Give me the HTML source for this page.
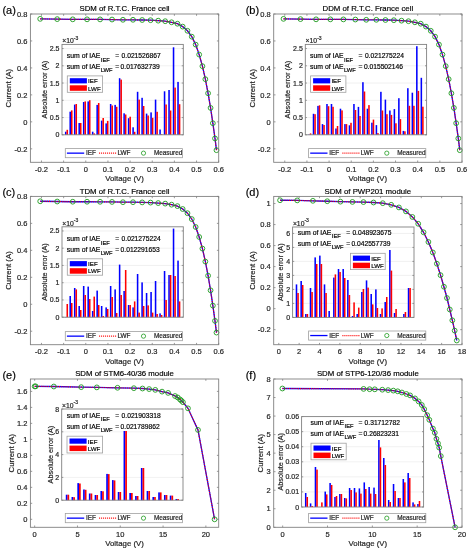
<!DOCTYPE html>
<html><head><meta charset="utf-8"><style>
html,body{margin:0;padding:0;background:#fff;width:470px;height:550px;overflow:hidden}
svg{display:block;font-family:"Liberation Sans", sans-serif;filter:blur(0.25px)}
text{stroke:#262626;stroke-width:0.2px;paint-order:stroke}
</style></head><body>
<svg width="470" height="550" viewBox="0 0 470 550">
<polyline points="40.21,18.85 57.18,19.12 72.76,19.33 87.05,19.33 100.09,19.39 112.03,19.53 122.95,19.80 133.01,19.80 142.16,20.00 150.56,20.20 158.20,20.67 165.20,21.21 171.58,22.29 177.43,23.71 182.66,26.61 187.46,30.78 191.76,36.65 195.66,44.60 199.18,54.58 202.42,66.17 205.36,79.18 208.09,93.27 210.57,107.90 212.85,123.20 215.00,138.44 216.48,150.17" fill="none" stroke="#0000ff" stroke-width="1.3"/>
<polyline points="40.21,18.85 57.18,19.12 72.76,19.33 87.05,19.33 100.09,19.39 112.03,19.53 122.95,19.80 133.01,19.80 142.16,20.00 150.56,20.20 158.20,20.67 165.20,21.21 171.58,22.29 177.43,23.71 182.66,26.61 187.46,30.78 191.76,36.65 195.66,44.60 199.18,54.58 202.42,66.17 205.36,79.18 208.09,93.27 210.57,107.90 212.85,123.20 215.00,138.44 216.48,150.17" fill="none" stroke="#ff0000" stroke-width="1.1" stroke-dasharray="1.1 1.1"/>
<circle cx="40.21" cy="18.85" r="2.4" fill="none" stroke="#1e9a1e" stroke-width="0.9"/>
<circle cx="57.18" cy="19.12" r="2.4" fill="none" stroke="#1e9a1e" stroke-width="0.9"/>
<circle cx="72.76" cy="19.33" r="2.4" fill="none" stroke="#1e9a1e" stroke-width="0.9"/>
<circle cx="87.05" cy="19.33" r="2.4" fill="none" stroke="#1e9a1e" stroke-width="0.9"/>
<circle cx="100.09" cy="19.39" r="2.4" fill="none" stroke="#1e9a1e" stroke-width="0.9"/>
<circle cx="112.03" cy="19.53" r="2.4" fill="none" stroke="#1e9a1e" stroke-width="0.9"/>
<circle cx="122.95" cy="19.80" r="2.4" fill="none" stroke="#1e9a1e" stroke-width="0.9"/>
<circle cx="133.01" cy="19.80" r="2.4" fill="none" stroke="#1e9a1e" stroke-width="0.9"/>
<circle cx="142.16" cy="20.00" r="2.4" fill="none" stroke="#1e9a1e" stroke-width="0.9"/>
<circle cx="150.56" cy="20.20" r="2.4" fill="none" stroke="#1e9a1e" stroke-width="0.9"/>
<circle cx="158.20" cy="20.67" r="2.4" fill="none" stroke="#1e9a1e" stroke-width="0.9"/>
<circle cx="165.20" cy="21.21" r="2.4" fill="none" stroke="#1e9a1e" stroke-width="0.9"/>
<circle cx="171.58" cy="22.29" r="2.4" fill="none" stroke="#1e9a1e" stroke-width="0.9"/>
<circle cx="177.43" cy="23.71" r="2.4" fill="none" stroke="#1e9a1e" stroke-width="0.9"/>
<circle cx="182.66" cy="26.61" r="2.4" fill="none" stroke="#1e9a1e" stroke-width="0.9"/>
<circle cx="187.46" cy="30.78" r="2.4" fill="none" stroke="#1e9a1e" stroke-width="0.9"/>
<circle cx="191.76" cy="36.65" r="2.4" fill="none" stroke="#1e9a1e" stroke-width="0.9"/>
<circle cx="195.66" cy="44.60" r="2.4" fill="none" stroke="#1e9a1e" stroke-width="0.9"/>
<circle cx="199.18" cy="54.58" r="2.4" fill="none" stroke="#1e9a1e" stroke-width="0.9"/>
<circle cx="202.42" cy="66.17" r="2.4" fill="none" stroke="#1e9a1e" stroke-width="0.9"/>
<circle cx="205.36" cy="79.18" r="2.4" fill="none" stroke="#1e9a1e" stroke-width="0.9"/>
<circle cx="208.09" cy="93.27" r="2.4" fill="none" stroke="#1e9a1e" stroke-width="0.9"/>
<circle cx="210.57" cy="107.90" r="2.4" fill="none" stroke="#1e9a1e" stroke-width="0.9"/>
<circle cx="212.85" cy="123.20" r="2.4" fill="none" stroke="#1e9a1e" stroke-width="0.9"/>
<circle cx="215.00" cy="138.44" r="2.4" fill="none" stroke="#1e9a1e" stroke-width="0.9"/>
<circle cx="216.48" cy="150.17" r="2.4" fill="none" stroke="#1e9a1e" stroke-width="0.9"/>
<rect x="30.4" y="14.0" width="188.30" height="148.30" fill="none" stroke="#808080" stroke-width="0.9"/>
<line x1="41.48" y1="162.3" x2="41.48" y2="160.5" stroke="#808080" stroke-width="0.8"/>
<line x1="41.48" y1="14.0" x2="41.48" y2="15.8" stroke="#808080" stroke-width="0.8"/>
<text x="41.48" y="171.90" font-size="7.5" text-anchor="middle" fill="#262626" >-0.2</text>
<line x1="63.63" y1="162.3" x2="63.63" y2="160.5" stroke="#808080" stroke-width="0.8"/>
<line x1="63.63" y1="14.0" x2="63.63" y2="15.8" stroke="#808080" stroke-width="0.8"/>
<text x="63.63" y="171.90" font-size="7.5" text-anchor="middle" fill="#262626" >-0.1</text>
<line x1="85.78" y1="162.3" x2="85.78" y2="160.5" stroke="#808080" stroke-width="0.8"/>
<line x1="85.78" y1="14.0" x2="85.78" y2="15.8" stroke="#808080" stroke-width="0.8"/>
<text x="85.78" y="171.90" font-size="7.5" text-anchor="middle" fill="#262626" >0</text>
<line x1="107.94" y1="162.3" x2="107.94" y2="160.5" stroke="#808080" stroke-width="0.8"/>
<line x1="107.94" y1="14.0" x2="107.94" y2="15.8" stroke="#808080" stroke-width="0.8"/>
<text x="107.94" y="171.90" font-size="7.5" text-anchor="middle" fill="#262626" >0.1</text>
<line x1="130.09" y1="162.3" x2="130.09" y2="160.5" stroke="#808080" stroke-width="0.8"/>
<line x1="130.09" y1="14.0" x2="130.09" y2="15.8" stroke="#808080" stroke-width="0.8"/>
<text x="130.09" y="171.90" font-size="7.5" text-anchor="middle" fill="#262626" >0.2</text>
<line x1="152.24" y1="162.3" x2="152.24" y2="160.5" stroke="#808080" stroke-width="0.8"/>
<line x1="152.24" y1="14.0" x2="152.24" y2="15.8" stroke="#808080" stroke-width="0.8"/>
<text x="152.24" y="171.90" font-size="7.5" text-anchor="middle" fill="#262626" >0.3</text>
<line x1="174.39" y1="162.3" x2="174.39" y2="160.5" stroke="#808080" stroke-width="0.8"/>
<line x1="174.39" y1="14.0" x2="174.39" y2="15.8" stroke="#808080" stroke-width="0.8"/>
<text x="174.39" y="171.90" font-size="7.5" text-anchor="middle" fill="#262626" >0.4</text>
<line x1="196.55" y1="162.3" x2="196.55" y2="160.5" stroke="#808080" stroke-width="0.8"/>
<line x1="196.55" y1="14.0" x2="196.55" y2="15.8" stroke="#808080" stroke-width="0.8"/>
<text x="196.55" y="171.90" font-size="7.5" text-anchor="middle" fill="#262626" >0.5</text>
<line x1="218.70" y1="162.3" x2="218.70" y2="160.5" stroke="#808080" stroke-width="0.8"/>
<line x1="218.70" y1="14.0" x2="218.70" y2="15.8" stroke="#808080" stroke-width="0.8"/>
<text x="218.70" y="171.90" font-size="7.5" text-anchor="middle" fill="#262626" >0.6</text>
<line x1="30.4" y1="148.82" x2="32.199999999999996" y2="148.82" stroke="#808080" stroke-width="0.8"/>
<line x1="218.7" y1="148.82" x2="216.89999999999998" y2="148.82" stroke="#808080" stroke-width="0.8"/>
<text x="27.40" y="151.52" font-size="7.5" text-anchor="end" fill="#262626" >-0.2</text>
<line x1="30.4" y1="121.85" x2="32.199999999999996" y2="121.85" stroke="#808080" stroke-width="0.8"/>
<line x1="218.7" y1="121.85" x2="216.89999999999998" y2="121.85" stroke="#808080" stroke-width="0.8"/>
<text x="27.40" y="124.55" font-size="7.5" text-anchor="end" fill="#262626" >0</text>
<line x1="30.4" y1="94.89" x2="32.199999999999996" y2="94.89" stroke="#808080" stroke-width="0.8"/>
<line x1="218.7" y1="94.89" x2="216.89999999999998" y2="94.89" stroke="#808080" stroke-width="0.8"/>
<text x="27.40" y="97.59" font-size="7.5" text-anchor="end" fill="#262626" >0.2</text>
<line x1="30.4" y1="67.93" x2="32.199999999999996" y2="67.93" stroke="#808080" stroke-width="0.8"/>
<line x1="218.7" y1="67.93" x2="216.89999999999998" y2="67.93" stroke="#808080" stroke-width="0.8"/>
<text x="27.40" y="70.63" font-size="7.5" text-anchor="end" fill="#262626" >0.4</text>
<line x1="30.4" y1="40.96" x2="32.199999999999996" y2="40.96" stroke="#808080" stroke-width="0.8"/>
<line x1="218.7" y1="40.96" x2="216.89999999999998" y2="40.96" stroke="#808080" stroke-width="0.8"/>
<text x="27.40" y="43.66" font-size="7.5" text-anchor="end" fill="#262626" >0.6</text>
<line x1="30.4" y1="14.00" x2="32.199999999999996" y2="14.00" stroke="#808080" stroke-width="0.8"/>
<line x1="218.7" y1="14.00" x2="216.89999999999998" y2="14.00" stroke="#808080" stroke-width="0.8"/>
<text x="27.40" y="16.70" font-size="7.5" text-anchor="end" fill="#262626" >0.8</text>
<text x="124.55" y="11.10" font-size="7.8" text-anchor="middle" fill="#000" >SDM of R.T.C. France cell</text>
<text x="124.55" y="181.20" font-size="7.8" text-anchor="middle" fill="#262626" >Voltage (V)</text>
<text transform="translate(11.399999999999999,88.15) rotate(-90)" font-size="7.8" text-anchor="middle" fill="#262626">Current (A)</text>
<text x="2.40" y="13.80" font-size="11" text-anchor="start" fill="#000" >(a)</text>
<rect x="65.3" y="148.6" width="117.20" height="9.10" fill="#fff" stroke="#a0a0a0" stroke-width="0.8"/>
<line x1="66.90" y1="153.15" x2="84.20" y2="153.15" stroke="#0000ff" stroke-width="1.3"/>
<text x="86.00" y="155.45" font-size="6.4" text-anchor="start" fill="#262626" >IEF</text>
<line x1="99.10" y1="153.15" x2="116.70" y2="153.15" stroke="#ff0000" stroke-width="1.25" stroke-dasharray="1 1"/>
<text x="117.40" y="155.45" font-size="6.4" text-anchor="start" fill="#262626" >LWF</text>
<circle cx="143.50" cy="153.15" r="2.1" fill="none" stroke="#1e9a1e" stroke-width="0.8"/>
<text x="153.90" y="155.45" font-size="6.4" text-anchor="start" fill="#262626" >Measured</text>
<rect x="62" y="44.4" width="121.30" height="90.40" fill="#fff" stroke="none"/>
<line x1="62" y1="117.55" x2="183.3" y2="117.55" stroke="#e8e8e8" stroke-width="0.6"/>
<line x1="62" y1="100.30" x2="183.3" y2="100.30" stroke="#e8e8e8" stroke-width="0.6"/>
<line x1="62" y1="83.04" x2="183.3" y2="83.04" stroke="#e8e8e8" stroke-width="0.6"/>
<line x1="62" y1="65.79" x2="183.3" y2="65.79" stroke="#e8e8e8" stroke-width="0.6"/>
<line x1="62" y1="48.54" x2="183.3" y2="48.54" stroke="#e8e8e8" stroke-width="0.6"/>
<rect x="64.94" y="131.70" width="1.55" height="3.10" fill="#0000ff"/>
<rect x="66.49" y="129.80" width="1.55" height="5.00" fill="#ff0000"/>
<rect x="69.44" y="111.70" width="1.55" height="23.10" fill="#0000ff"/>
<rect x="70.99" y="110.40" width="1.55" height="24.40" fill="#ff0000"/>
<rect x="73.93" y="104.60" width="1.55" height="30.20" fill="#0000ff"/>
<rect x="75.48" y="104.00" width="1.55" height="30.80" fill="#ff0000"/>
<rect x="78.42" y="123.00" width="1.55" height="11.80" fill="#0000ff"/>
<rect x="79.97" y="123.00" width="1.55" height="11.80" fill="#ff0000"/>
<rect x="82.91" y="102.00" width="1.55" height="32.80" fill="#0000ff"/>
<rect x="84.46" y="101.40" width="1.55" height="33.40" fill="#ff0000"/>
<rect x="87.41" y="101.40" width="1.55" height="33.40" fill="#0000ff"/>
<rect x="88.96" y="100.20" width="1.55" height="34.60" fill="#ff0000"/>
<rect x="91.90" y="131.70" width="1.55" height="3.10" fill="#0000ff"/>
<rect x="93.45" y="133.40" width="1.55" height="1.40" fill="#ff0000"/>
<rect x="96.39" y="104.90" width="1.55" height="29.90" fill="#0000ff"/>
<rect x="97.94" y="103.00" width="1.55" height="31.80" fill="#ff0000"/>
<rect x="100.88" y="120.60" width="1.55" height="14.20" fill="#0000ff"/>
<rect x="102.43" y="118.00" width="1.55" height="16.80" fill="#ff0000"/>
<rect x="105.38" y="123.40" width="1.55" height="11.40" fill="#0000ff"/>
<rect x="106.93" y="120.90" width="1.55" height="13.90" fill="#ff0000"/>
<rect x="109.87" y="104.00" width="1.55" height="30.80" fill="#0000ff"/>
<rect x="111.42" y="105.50" width="1.55" height="29.30" fill="#ff0000"/>
<rect x="114.36" y="104.90" width="1.55" height="29.90" fill="#0000ff"/>
<rect x="115.91" y="106.80" width="1.55" height="28.00" fill="#ff0000"/>
<rect x="118.85" y="78.20" width="1.55" height="56.60" fill="#0000ff"/>
<rect x="120.40" y="79.60" width="1.55" height="55.20" fill="#ff0000"/>
<rect x="123.35" y="113.30" width="1.55" height="21.50" fill="#0000ff"/>
<rect x="124.90" y="114.50" width="1.55" height="20.30" fill="#ff0000"/>
<rect x="127.84" y="118.20" width="1.55" height="16.60" fill="#0000ff"/>
<rect x="129.39" y="116.70" width="1.55" height="18.10" fill="#ff0000"/>
<rect x="132.33" y="127.30" width="1.55" height="7.50" fill="#0000ff"/>
<rect x="133.88" y="131.80" width="1.55" height="3.00" fill="#ff0000"/>
<rect x="136.82" y="91.80" width="1.55" height="43.00" fill="#0000ff"/>
<rect x="138.37" y="99.60" width="1.55" height="35.20" fill="#ff0000"/>
<rect x="141.32" y="97.80" width="1.55" height="37.00" fill="#0000ff"/>
<rect x="142.87" y="106.00" width="1.55" height="28.80" fill="#ff0000"/>
<rect x="145.81" y="113.60" width="1.55" height="21.20" fill="#0000ff"/>
<rect x="147.36" y="115.50" width="1.55" height="19.30" fill="#ff0000"/>
<rect x="150.30" y="112.40" width="1.55" height="22.40" fill="#0000ff"/>
<rect x="151.85" y="117.80" width="1.55" height="17.00" fill="#ff0000"/>
<rect x="154.79" y="99.60" width="1.55" height="35.20" fill="#0000ff"/>
<rect x="156.34" y="111.80" width="1.55" height="23.00" fill="#ff0000"/>
<rect x="159.29" y="129.50" width="1.55" height="5.30" fill="#0000ff"/>
<rect x="160.84" y="134.20" width="1.55" height="0.60" fill="#ff0000"/>
<rect x="163.78" y="91.30" width="1.55" height="43.50" fill="#0000ff"/>
<rect x="165.33" y="104.50" width="1.55" height="30.30" fill="#ff0000"/>
<rect x="168.27" y="90.00" width="1.55" height="44.80" fill="#0000ff"/>
<rect x="169.82" y="110.50" width="1.55" height="24.30" fill="#ff0000"/>
<rect x="172.76" y="47.30" width="1.55" height="87.50" fill="#0000ff"/>
<rect x="174.31" y="87.60" width="1.55" height="47.20" fill="#ff0000"/>
<rect x="177.26" y="81.90" width="1.55" height="52.90" fill="#0000ff"/>
<rect x="178.81" y="104.20" width="1.55" height="30.60" fill="#ff0000"/>
<rect x="62" y="44.4" width="121.30" height="90.40" fill="none" stroke="#808080" stroke-width="0.9"/>
<line x1="62" y1="134.80" x2="63.6" y2="134.80" stroke="#808080" stroke-width="0.8"/>
<line x1="183.3" y1="134.80" x2="181.70000000000002" y2="134.80" stroke="#808080" stroke-width="0.8"/>
<text x="59.50" y="137.30" font-size="7" text-anchor="end" fill="#262626" >0</text>
<line x1="62" y1="117.55" x2="63.6" y2="117.55" stroke="#808080" stroke-width="0.8"/>
<line x1="183.3" y1="117.55" x2="181.70000000000002" y2="117.55" stroke="#808080" stroke-width="0.8"/>
<text x="59.50" y="120.05" font-size="7" text-anchor="end" fill="#262626" >0.5</text>
<line x1="62" y1="100.30" x2="63.6" y2="100.30" stroke="#808080" stroke-width="0.8"/>
<line x1="183.3" y1="100.30" x2="181.70000000000002" y2="100.30" stroke="#808080" stroke-width="0.8"/>
<text x="59.50" y="102.80" font-size="7" text-anchor="end" fill="#262626" >1</text>
<line x1="62" y1="83.04" x2="63.6" y2="83.04" stroke="#808080" stroke-width="0.8"/>
<line x1="183.3" y1="83.04" x2="181.70000000000002" y2="83.04" stroke="#808080" stroke-width="0.8"/>
<text x="59.50" y="85.54" font-size="7" text-anchor="end" fill="#262626" >1.5</text>
<line x1="62" y1="65.79" x2="63.6" y2="65.79" stroke="#808080" stroke-width="0.8"/>
<line x1="183.3" y1="65.79" x2="181.70000000000002" y2="65.79" stroke="#808080" stroke-width="0.8"/>
<text x="59.50" y="68.29" font-size="7" text-anchor="end" fill="#262626" >2</text>
<line x1="62" y1="48.54" x2="63.6" y2="48.54" stroke="#808080" stroke-width="0.8"/>
<line x1="183.3" y1="48.54" x2="181.70000000000002" y2="48.54" stroke="#808080" stroke-width="0.8"/>
<text x="59.50" y="51.04" font-size="7" text-anchor="end" fill="#262626" >2.5</text>
<text transform="translate(46.7,89.60) rotate(-90)" font-size="7.3" text-anchor="middle" fill="#262626">Absolute error (A)</text>
<text x="62.3" y="43.199999999999996" font-size="6.8" fill="#262626">×10<tspan dy="-3.4" font-size="5">-3</tspan></text>
<text x="66.8" y="58.3" font-size="6.85" fill="#000">sum of IAE<tspan dx="0.5" dy="3.2" font-size="5.8">IEF</tspan></text>
<text x="115.2" y="58.3" font-size="6.7" fill="#000">=</text>
<text x="121.6" y="58.3" font-size="6.7" fill="#000">0.021526867</text>
<text x="66.8" y="68.9" font-size="6.85" fill="#000">sum of IAE<tspan dx="0.5" dy="3.2" font-size="5.8">LWF</tspan></text>
<text x="115.2" y="68.9" font-size="6.7" fill="#000">=</text>
<text x="120.6" y="68.9" font-size="6.7" fill="#000">0.017632739</text>
<rect x="67.3" y="75.9" width="35.30" height="16.40" fill="#fff" stroke="#a0a0a0" stroke-width="0.8"/>
<rect x="69.80" y="78.20" width="17.1" height="5.2" fill="#0000ff"/>
<rect x="69.80" y="85.30" width="17.1" height="5.5" fill="#ff0000"/>
<text x="88.10" y="83.20" font-size="6.2" text-anchor="start" fill="#000" >IEF</text>
<text x="88.10" y="90.50" font-size="6.2" text-anchor="start" fill="#000" >LWF</text>
<polyline points="283.51,18.85 300.48,19.12 316.06,19.33 330.35,19.33 343.39,19.39 355.33,19.53 366.25,19.80 376.31,19.80 385.46,20.00 393.86,20.20 401.50,20.67 408.50,21.21 414.88,22.29 420.73,23.71 425.96,26.61 430.76,30.78 435.06,36.65 438.96,44.60 442.48,54.58 445.72,66.17 448.66,79.18 451.39,93.27 453.87,107.90 456.15,123.20 458.30,138.44 459.78,150.17" fill="none" stroke="#0000ff" stroke-width="1.3"/>
<polyline points="283.51,18.85 300.48,19.12 316.06,19.33 330.35,19.33 343.39,19.39 355.33,19.53 366.25,19.80 376.31,19.80 385.46,20.00 393.86,20.20 401.50,20.67 408.50,21.21 414.88,22.29 420.73,23.71 425.96,26.61 430.76,30.78 435.06,36.65 438.96,44.60 442.48,54.58 445.72,66.17 448.66,79.18 451.39,93.27 453.87,107.90 456.15,123.20 458.30,138.44 459.78,150.17" fill="none" stroke="#ff0000" stroke-width="1.1" stroke-dasharray="1.1 1.1"/>
<circle cx="283.51" cy="18.85" r="2.4" fill="none" stroke="#1e9a1e" stroke-width="0.9"/>
<circle cx="300.48" cy="19.12" r="2.4" fill="none" stroke="#1e9a1e" stroke-width="0.9"/>
<circle cx="316.06" cy="19.33" r="2.4" fill="none" stroke="#1e9a1e" stroke-width="0.9"/>
<circle cx="330.35" cy="19.33" r="2.4" fill="none" stroke="#1e9a1e" stroke-width="0.9"/>
<circle cx="343.39" cy="19.39" r="2.4" fill="none" stroke="#1e9a1e" stroke-width="0.9"/>
<circle cx="355.33" cy="19.53" r="2.4" fill="none" stroke="#1e9a1e" stroke-width="0.9"/>
<circle cx="366.25" cy="19.80" r="2.4" fill="none" stroke="#1e9a1e" stroke-width="0.9"/>
<circle cx="376.31" cy="19.80" r="2.4" fill="none" stroke="#1e9a1e" stroke-width="0.9"/>
<circle cx="385.46" cy="20.00" r="2.4" fill="none" stroke="#1e9a1e" stroke-width="0.9"/>
<circle cx="393.86" cy="20.20" r="2.4" fill="none" stroke="#1e9a1e" stroke-width="0.9"/>
<circle cx="401.50" cy="20.67" r="2.4" fill="none" stroke="#1e9a1e" stroke-width="0.9"/>
<circle cx="408.50" cy="21.21" r="2.4" fill="none" stroke="#1e9a1e" stroke-width="0.9"/>
<circle cx="414.88" cy="22.29" r="2.4" fill="none" stroke="#1e9a1e" stroke-width="0.9"/>
<circle cx="420.73" cy="23.71" r="2.4" fill="none" stroke="#1e9a1e" stroke-width="0.9"/>
<circle cx="425.96" cy="26.61" r="2.4" fill="none" stroke="#1e9a1e" stroke-width="0.9"/>
<circle cx="430.76" cy="30.78" r="2.4" fill="none" stroke="#1e9a1e" stroke-width="0.9"/>
<circle cx="435.06" cy="36.65" r="2.4" fill="none" stroke="#1e9a1e" stroke-width="0.9"/>
<circle cx="438.96" cy="44.60" r="2.4" fill="none" stroke="#1e9a1e" stroke-width="0.9"/>
<circle cx="442.48" cy="54.58" r="2.4" fill="none" stroke="#1e9a1e" stroke-width="0.9"/>
<circle cx="445.72" cy="66.17" r="2.4" fill="none" stroke="#1e9a1e" stroke-width="0.9"/>
<circle cx="448.66" cy="79.18" r="2.4" fill="none" stroke="#1e9a1e" stroke-width="0.9"/>
<circle cx="451.39" cy="93.27" r="2.4" fill="none" stroke="#1e9a1e" stroke-width="0.9"/>
<circle cx="453.87" cy="107.90" r="2.4" fill="none" stroke="#1e9a1e" stroke-width="0.9"/>
<circle cx="456.15" cy="123.20" r="2.4" fill="none" stroke="#1e9a1e" stroke-width="0.9"/>
<circle cx="458.30" cy="138.44" r="2.4" fill="none" stroke="#1e9a1e" stroke-width="0.9"/>
<circle cx="459.78" cy="150.17" r="2.4" fill="none" stroke="#1e9a1e" stroke-width="0.9"/>
<rect x="273.7" y="14.0" width="188.30" height="148.30" fill="none" stroke="#808080" stroke-width="0.9"/>
<line x1="284.78" y1="162.3" x2="284.78" y2="160.5" stroke="#808080" stroke-width="0.8"/>
<line x1="284.78" y1="14.0" x2="284.78" y2="15.8" stroke="#808080" stroke-width="0.8"/>
<text x="284.78" y="171.90" font-size="7.5" text-anchor="middle" fill="#262626" >-0.2</text>
<line x1="306.93" y1="162.3" x2="306.93" y2="160.5" stroke="#808080" stroke-width="0.8"/>
<line x1="306.93" y1="14.0" x2="306.93" y2="15.8" stroke="#808080" stroke-width="0.8"/>
<text x="306.93" y="171.90" font-size="7.5" text-anchor="middle" fill="#262626" >-0.1</text>
<line x1="329.08" y1="162.3" x2="329.08" y2="160.5" stroke="#808080" stroke-width="0.8"/>
<line x1="329.08" y1="14.0" x2="329.08" y2="15.8" stroke="#808080" stroke-width="0.8"/>
<text x="329.08" y="171.90" font-size="7.5" text-anchor="middle" fill="#262626" >0</text>
<line x1="351.24" y1="162.3" x2="351.24" y2="160.5" stroke="#808080" stroke-width="0.8"/>
<line x1="351.24" y1="14.0" x2="351.24" y2="15.8" stroke="#808080" stroke-width="0.8"/>
<text x="351.24" y="171.90" font-size="7.5" text-anchor="middle" fill="#262626" >0.1</text>
<line x1="373.39" y1="162.3" x2="373.39" y2="160.5" stroke="#808080" stroke-width="0.8"/>
<line x1="373.39" y1="14.0" x2="373.39" y2="15.8" stroke="#808080" stroke-width="0.8"/>
<text x="373.39" y="171.90" font-size="7.5" text-anchor="middle" fill="#262626" >0.2</text>
<line x1="395.54" y1="162.3" x2="395.54" y2="160.5" stroke="#808080" stroke-width="0.8"/>
<line x1="395.54" y1="14.0" x2="395.54" y2="15.8" stroke="#808080" stroke-width="0.8"/>
<text x="395.54" y="171.90" font-size="7.5" text-anchor="middle" fill="#262626" >0.3</text>
<line x1="417.69" y1="162.3" x2="417.69" y2="160.5" stroke="#808080" stroke-width="0.8"/>
<line x1="417.69" y1="14.0" x2="417.69" y2="15.8" stroke="#808080" stroke-width="0.8"/>
<text x="417.69" y="171.90" font-size="7.5" text-anchor="middle" fill="#262626" >0.4</text>
<line x1="439.85" y1="162.3" x2="439.85" y2="160.5" stroke="#808080" stroke-width="0.8"/>
<line x1="439.85" y1="14.0" x2="439.85" y2="15.8" stroke="#808080" stroke-width="0.8"/>
<text x="439.85" y="171.90" font-size="7.5" text-anchor="middle" fill="#262626" >0.5</text>
<line x1="462.00" y1="162.3" x2="462.00" y2="160.5" stroke="#808080" stroke-width="0.8"/>
<line x1="462.00" y1="14.0" x2="462.00" y2="15.8" stroke="#808080" stroke-width="0.8"/>
<text x="462.00" y="171.90" font-size="7.5" text-anchor="middle" fill="#262626" >0.6</text>
<line x1="273.7" y1="148.82" x2="275.5" y2="148.82" stroke="#808080" stroke-width="0.8"/>
<line x1="462.0" y1="148.82" x2="460.2" y2="148.82" stroke="#808080" stroke-width="0.8"/>
<text x="270.70" y="151.52" font-size="7.5" text-anchor="end" fill="#262626" >-0.2</text>
<line x1="273.7" y1="121.85" x2="275.5" y2="121.85" stroke="#808080" stroke-width="0.8"/>
<line x1="462.0" y1="121.85" x2="460.2" y2="121.85" stroke="#808080" stroke-width="0.8"/>
<text x="270.70" y="124.55" font-size="7.5" text-anchor="end" fill="#262626" >0</text>
<line x1="273.7" y1="94.89" x2="275.5" y2="94.89" stroke="#808080" stroke-width="0.8"/>
<line x1="462.0" y1="94.89" x2="460.2" y2="94.89" stroke="#808080" stroke-width="0.8"/>
<text x="270.70" y="97.59" font-size="7.5" text-anchor="end" fill="#262626" >0.2</text>
<line x1="273.7" y1="67.93" x2="275.5" y2="67.93" stroke="#808080" stroke-width="0.8"/>
<line x1="462.0" y1="67.93" x2="460.2" y2="67.93" stroke="#808080" stroke-width="0.8"/>
<text x="270.70" y="70.63" font-size="7.5" text-anchor="end" fill="#262626" >0.4</text>
<line x1="273.7" y1="40.96" x2="275.5" y2="40.96" stroke="#808080" stroke-width="0.8"/>
<line x1="462.0" y1="40.96" x2="460.2" y2="40.96" stroke="#808080" stroke-width="0.8"/>
<text x="270.70" y="43.66" font-size="7.5" text-anchor="end" fill="#262626" >0.6</text>
<line x1="273.7" y1="14.00" x2="275.5" y2="14.00" stroke="#808080" stroke-width="0.8"/>
<line x1="462.0" y1="14.00" x2="460.2" y2="14.00" stroke="#808080" stroke-width="0.8"/>
<text x="270.70" y="16.70" font-size="7.5" text-anchor="end" fill="#262626" >0.8</text>
<text x="367.85" y="11.10" font-size="7.8" text-anchor="middle" fill="#000" >DDM of R.T.C. France cell</text>
<text x="367.85" y="181.20" font-size="7.8" text-anchor="middle" fill="#262626" >Voltage (V)</text>
<text transform="translate(255.0,88.15) rotate(-90)" font-size="7.8" text-anchor="middle" fill="#262626">Current (A)</text>
<text x="245.70" y="13.80" font-size="11" text-anchor="start" fill="#000" >(b)</text>
<rect x="308.6" y="148.6" width="117.20" height="9.10" fill="#fff" stroke="#a0a0a0" stroke-width="0.8"/>
<line x1="310.20" y1="153.15" x2="327.50" y2="153.15" stroke="#0000ff" stroke-width="1.3"/>
<text x="329.30" y="155.45" font-size="6.4" text-anchor="start" fill="#262626" >IEF</text>
<line x1="342.40" y1="153.15" x2="360.00" y2="153.15" stroke="#ff0000" stroke-width="1.25" stroke-dasharray="1 1"/>
<text x="360.70" y="155.45" font-size="6.4" text-anchor="start" fill="#262626" >LWF</text>
<circle cx="386.80" cy="153.15" r="2.1" fill="none" stroke="#1e9a1e" stroke-width="0.8"/>
<text x="397.20" y="155.45" font-size="6.4" text-anchor="start" fill="#262626" >Measured</text>
<rect x="305.3" y="44.4" width="121.30" height="90.40" fill="#fff" stroke="none"/>
<line x1="305.3" y1="117.55" x2="426.6" y2="117.55" stroke="#e8e8e8" stroke-width="0.6"/>
<line x1="305.3" y1="100.30" x2="426.6" y2="100.30" stroke="#e8e8e8" stroke-width="0.6"/>
<line x1="305.3" y1="83.04" x2="426.6" y2="83.04" stroke="#e8e8e8" stroke-width="0.6"/>
<line x1="305.3" y1="65.79" x2="426.6" y2="65.79" stroke="#e8e8e8" stroke-width="0.6"/>
<line x1="305.3" y1="48.54" x2="426.6" y2="48.54" stroke="#e8e8e8" stroke-width="0.6"/>
<rect x="308.24" y="134.50" width="1.55" height="0.30" fill="#0000ff"/>
<rect x="309.79" y="133.40" width="1.55" height="1.40" fill="#ff0000"/>
<rect x="312.74" y="113.80" width="1.55" height="21.00" fill="#0000ff"/>
<rect x="314.29" y="114.20" width="1.55" height="20.60" fill="#ff0000"/>
<rect x="317.23" y="105.90" width="1.55" height="28.90" fill="#0000ff"/>
<rect x="318.78" y="105.30" width="1.55" height="29.50" fill="#ff0000"/>
<rect x="321.72" y="124.10" width="1.55" height="10.70" fill="#0000ff"/>
<rect x="323.27" y="125.00" width="1.55" height="9.80" fill="#ff0000"/>
<rect x="326.21" y="104.00" width="1.55" height="30.80" fill="#0000ff"/>
<rect x="327.76" y="106.20" width="1.55" height="28.60" fill="#ff0000"/>
<rect x="330.71" y="104.00" width="1.55" height="30.80" fill="#0000ff"/>
<rect x="332.26" y="106.80" width="1.55" height="28.00" fill="#ff0000"/>
<rect x="335.20" y="128.50" width="1.55" height="6.30" fill="#0000ff"/>
<rect x="336.75" y="126.00" width="1.55" height="8.80" fill="#ff0000"/>
<rect x="339.69" y="108.70" width="1.55" height="26.10" fill="#0000ff"/>
<rect x="341.24" y="110.40" width="1.55" height="24.40" fill="#ff0000"/>
<rect x="344.18" y="124.10" width="1.55" height="10.70" fill="#0000ff"/>
<rect x="345.73" y="124.10" width="1.55" height="10.70" fill="#ff0000"/>
<rect x="348.68" y="125.30" width="1.55" height="9.50" fill="#0000ff"/>
<rect x="350.23" y="122.80" width="1.55" height="12.00" fill="#ff0000"/>
<rect x="353.17" y="104.00" width="1.55" height="30.80" fill="#0000ff"/>
<rect x="354.72" y="110.00" width="1.55" height="24.80" fill="#ff0000"/>
<rect x="357.66" y="106.90" width="1.55" height="27.90" fill="#0000ff"/>
<rect x="359.21" y="116.00" width="1.55" height="18.80" fill="#ff0000"/>
<rect x="362.15" y="82.20" width="1.55" height="52.60" fill="#0000ff"/>
<rect x="363.70" y="91.50" width="1.55" height="43.30" fill="#ff0000"/>
<rect x="366.65" y="108.70" width="1.55" height="26.10" fill="#0000ff"/>
<rect x="368.20" y="105.10" width="1.55" height="29.70" fill="#ff0000"/>
<rect x="371.14" y="122.70" width="1.55" height="12.10" fill="#0000ff"/>
<rect x="372.69" y="119.60" width="1.55" height="15.20" fill="#ff0000"/>
<rect x="375.63" y="125.10" width="1.55" height="9.70" fill="#0000ff"/>
<rect x="377.18" y="133.10" width="1.55" height="1.70" fill="#ff0000"/>
<rect x="380.12" y="91.80" width="1.55" height="43.00" fill="#0000ff"/>
<rect x="381.67" y="110.50" width="1.55" height="24.30" fill="#ff0000"/>
<rect x="384.62" y="99.60" width="1.55" height="35.20" fill="#0000ff"/>
<rect x="386.17" y="114.20" width="1.55" height="20.60" fill="#ff0000"/>
<rect x="389.11" y="110.50" width="1.55" height="24.30" fill="#0000ff"/>
<rect x="390.66" y="114.90" width="1.55" height="19.90" fill="#ff0000"/>
<rect x="393.60" y="109.10" width="1.55" height="25.70" fill="#0000ff"/>
<rect x="395.15" y="123.30" width="1.55" height="11.50" fill="#ff0000"/>
<rect x="398.09" y="98.20" width="1.55" height="36.60" fill="#0000ff"/>
<rect x="399.64" y="119.10" width="1.55" height="15.70" fill="#ff0000"/>
<rect x="402.59" y="130.90" width="1.55" height="3.90" fill="#0000ff"/>
<rect x="404.14" y="131.30" width="1.55" height="3.50" fill="#ff0000"/>
<rect x="407.08" y="88.20" width="1.55" height="46.60" fill="#0000ff"/>
<rect x="408.63" y="105.80" width="1.55" height="29.00" fill="#ff0000"/>
<rect x="411.57" y="92.70" width="1.55" height="42.10" fill="#0000ff"/>
<rect x="413.12" y="105.80" width="1.55" height="29.00" fill="#ff0000"/>
<rect x="416.06" y="46.20" width="1.55" height="88.60" fill="#0000ff"/>
<rect x="417.61" y="90.90" width="1.55" height="43.90" fill="#ff0000"/>
<rect x="420.56" y="77.80" width="1.55" height="57.00" fill="#0000ff"/>
<rect x="422.11" y="106.70" width="1.55" height="28.10" fill="#ff0000"/>
<rect x="305.3" y="44.4" width="121.30" height="90.40" fill="none" stroke="#808080" stroke-width="0.9"/>
<line x1="305.3" y1="134.80" x2="306.90000000000003" y2="134.80" stroke="#808080" stroke-width="0.8"/>
<line x1="426.6" y1="134.80" x2="425.0" y2="134.80" stroke="#808080" stroke-width="0.8"/>
<text x="302.80" y="137.30" font-size="7" text-anchor="end" fill="#262626" >0</text>
<line x1="305.3" y1="117.55" x2="306.90000000000003" y2="117.55" stroke="#808080" stroke-width="0.8"/>
<line x1="426.6" y1="117.55" x2="425.0" y2="117.55" stroke="#808080" stroke-width="0.8"/>
<text x="302.80" y="120.05" font-size="7" text-anchor="end" fill="#262626" >0.5</text>
<line x1="305.3" y1="100.30" x2="306.90000000000003" y2="100.30" stroke="#808080" stroke-width="0.8"/>
<line x1="426.6" y1="100.30" x2="425.0" y2="100.30" stroke="#808080" stroke-width="0.8"/>
<text x="302.80" y="102.80" font-size="7" text-anchor="end" fill="#262626" >1</text>
<line x1="305.3" y1="83.04" x2="306.90000000000003" y2="83.04" stroke="#808080" stroke-width="0.8"/>
<line x1="426.6" y1="83.04" x2="425.0" y2="83.04" stroke="#808080" stroke-width="0.8"/>
<text x="302.80" y="85.54" font-size="7" text-anchor="end" fill="#262626" >1.5</text>
<line x1="305.3" y1="65.79" x2="306.90000000000003" y2="65.79" stroke="#808080" stroke-width="0.8"/>
<line x1="426.6" y1="65.79" x2="425.0" y2="65.79" stroke="#808080" stroke-width="0.8"/>
<text x="302.80" y="68.29" font-size="7" text-anchor="end" fill="#262626" >2</text>
<line x1="305.3" y1="48.54" x2="306.90000000000003" y2="48.54" stroke="#808080" stroke-width="0.8"/>
<line x1="426.6" y1="48.54" x2="425.0" y2="48.54" stroke="#808080" stroke-width="0.8"/>
<text x="302.80" y="51.04" font-size="7" text-anchor="end" fill="#262626" >2.5</text>
<text transform="translate(290.0,89.60) rotate(-90)" font-size="7.3" text-anchor="middle" fill="#262626">Absolute error (A)</text>
<text x="305.6" y="43.199999999999996" font-size="6.8" fill="#262626">×10<tspan dy="-3.4" font-size="5">-3</tspan></text>
<text x="310.1" y="58.3" font-size="6.85" fill="#000">sum of IAE<tspan dx="0.5" dy="3.2" font-size="5.8">IEF</tspan></text>
<text x="358.5" y="58.3" font-size="6.7" fill="#000">=</text>
<text x="364.9" y="58.3" font-size="6.7" fill="#000">0.021275224</text>
<text x="310.1" y="68.9" font-size="6.85" fill="#000">sum of IAE<tspan dx="0.5" dy="3.2" font-size="5.8">LWF</tspan></text>
<text x="358.5" y="68.9" font-size="6.7" fill="#000">=</text>
<text x="363.9" y="68.9" font-size="6.7" fill="#000">0.015502146</text>
<rect x="310.6" y="75.9" width="35.30" height="16.40" fill="#fff" stroke="#a0a0a0" stroke-width="0.8"/>
<rect x="313.10" y="78.20" width="17.1" height="5.2" fill="#0000ff"/>
<rect x="313.10" y="85.30" width="17.1" height="5.5" fill="#ff0000"/>
<text x="331.40" y="83.20" font-size="6.2" text-anchor="start" fill="#000" >IEF</text>
<text x="331.40" y="90.50" font-size="6.2" text-anchor="start" fill="#000" >LWF</text>
<polyline points="40.21,201.25 57.18,201.52 72.76,201.73 87.05,201.73 100.09,201.79 112.03,201.93 122.95,202.20 133.01,202.20 142.16,202.40 150.56,202.60 158.20,203.07 165.20,203.61 171.58,204.69 177.43,206.11 182.66,209.01 187.46,213.18 191.76,219.05 195.66,227.00 199.18,236.98 202.42,248.57 205.36,261.58 208.09,275.67 210.57,290.30 212.85,305.60 215.00,320.84 216.48,332.57" fill="none" stroke="#0000ff" stroke-width="1.3"/>
<polyline points="40.21,201.25 57.18,201.52 72.76,201.73 87.05,201.73 100.09,201.79 112.03,201.93 122.95,202.20 133.01,202.20 142.16,202.40 150.56,202.60 158.20,203.07 165.20,203.61 171.58,204.69 177.43,206.11 182.66,209.01 187.46,213.18 191.76,219.05 195.66,227.00 199.18,236.98 202.42,248.57 205.36,261.58 208.09,275.67 210.57,290.30 212.85,305.60 215.00,320.84 216.48,332.57" fill="none" stroke="#ff0000" stroke-width="1.1" stroke-dasharray="1.1 1.1"/>
<circle cx="40.21" cy="201.25" r="2.4" fill="none" stroke="#1e9a1e" stroke-width="0.9"/>
<circle cx="57.18" cy="201.52" r="2.4" fill="none" stroke="#1e9a1e" stroke-width="0.9"/>
<circle cx="72.76" cy="201.73" r="2.4" fill="none" stroke="#1e9a1e" stroke-width="0.9"/>
<circle cx="87.05" cy="201.73" r="2.4" fill="none" stroke="#1e9a1e" stroke-width="0.9"/>
<circle cx="100.09" cy="201.79" r="2.4" fill="none" stroke="#1e9a1e" stroke-width="0.9"/>
<circle cx="112.03" cy="201.93" r="2.4" fill="none" stroke="#1e9a1e" stroke-width="0.9"/>
<circle cx="122.95" cy="202.20" r="2.4" fill="none" stroke="#1e9a1e" stroke-width="0.9"/>
<circle cx="133.01" cy="202.20" r="2.4" fill="none" stroke="#1e9a1e" stroke-width="0.9"/>
<circle cx="142.16" cy="202.40" r="2.4" fill="none" stroke="#1e9a1e" stroke-width="0.9"/>
<circle cx="150.56" cy="202.60" r="2.4" fill="none" stroke="#1e9a1e" stroke-width="0.9"/>
<circle cx="158.20" cy="203.07" r="2.4" fill="none" stroke="#1e9a1e" stroke-width="0.9"/>
<circle cx="165.20" cy="203.61" r="2.4" fill="none" stroke="#1e9a1e" stroke-width="0.9"/>
<circle cx="171.58" cy="204.69" r="2.4" fill="none" stroke="#1e9a1e" stroke-width="0.9"/>
<circle cx="177.43" cy="206.11" r="2.4" fill="none" stroke="#1e9a1e" stroke-width="0.9"/>
<circle cx="182.66" cy="209.01" r="2.4" fill="none" stroke="#1e9a1e" stroke-width="0.9"/>
<circle cx="187.46" cy="213.18" r="2.4" fill="none" stroke="#1e9a1e" stroke-width="0.9"/>
<circle cx="191.76" cy="219.05" r="2.4" fill="none" stroke="#1e9a1e" stroke-width="0.9"/>
<circle cx="195.66" cy="227.00" r="2.4" fill="none" stroke="#1e9a1e" stroke-width="0.9"/>
<circle cx="199.18" cy="236.98" r="2.4" fill="none" stroke="#1e9a1e" stroke-width="0.9"/>
<circle cx="202.42" cy="248.57" r="2.4" fill="none" stroke="#1e9a1e" stroke-width="0.9"/>
<circle cx="205.36" cy="261.58" r="2.4" fill="none" stroke="#1e9a1e" stroke-width="0.9"/>
<circle cx="208.09" cy="275.67" r="2.4" fill="none" stroke="#1e9a1e" stroke-width="0.9"/>
<circle cx="210.57" cy="290.30" r="2.4" fill="none" stroke="#1e9a1e" stroke-width="0.9"/>
<circle cx="212.85" cy="305.60" r="2.4" fill="none" stroke="#1e9a1e" stroke-width="0.9"/>
<circle cx="215.00" cy="320.84" r="2.4" fill="none" stroke="#1e9a1e" stroke-width="0.9"/>
<circle cx="216.48" cy="332.57" r="2.4" fill="none" stroke="#1e9a1e" stroke-width="0.9"/>
<rect x="30.4" y="196.4" width="188.30" height="148.30" fill="none" stroke="#808080" stroke-width="0.9"/>
<line x1="41.48" y1="344.70000000000005" x2="41.48" y2="342.90000000000003" stroke="#808080" stroke-width="0.8"/>
<line x1="41.48" y1="196.4" x2="41.48" y2="198.20000000000002" stroke="#808080" stroke-width="0.8"/>
<text x="41.48" y="354.30" font-size="7.5" text-anchor="middle" fill="#262626" >-0.2</text>
<line x1="63.63" y1="344.70000000000005" x2="63.63" y2="342.90000000000003" stroke="#808080" stroke-width="0.8"/>
<line x1="63.63" y1="196.4" x2="63.63" y2="198.20000000000002" stroke="#808080" stroke-width="0.8"/>
<text x="63.63" y="354.30" font-size="7.5" text-anchor="middle" fill="#262626" >-0.1</text>
<line x1="85.78" y1="344.70000000000005" x2="85.78" y2="342.90000000000003" stroke="#808080" stroke-width="0.8"/>
<line x1="85.78" y1="196.4" x2="85.78" y2="198.20000000000002" stroke="#808080" stroke-width="0.8"/>
<text x="85.78" y="354.30" font-size="7.5" text-anchor="middle" fill="#262626" >0</text>
<line x1="107.94" y1="344.70000000000005" x2="107.94" y2="342.90000000000003" stroke="#808080" stroke-width="0.8"/>
<line x1="107.94" y1="196.4" x2="107.94" y2="198.20000000000002" stroke="#808080" stroke-width="0.8"/>
<text x="107.94" y="354.30" font-size="7.5" text-anchor="middle" fill="#262626" >0.1</text>
<line x1="130.09" y1="344.70000000000005" x2="130.09" y2="342.90000000000003" stroke="#808080" stroke-width="0.8"/>
<line x1="130.09" y1="196.4" x2="130.09" y2="198.20000000000002" stroke="#808080" stroke-width="0.8"/>
<text x="130.09" y="354.30" font-size="7.5" text-anchor="middle" fill="#262626" >0.2</text>
<line x1="152.24" y1="344.70000000000005" x2="152.24" y2="342.90000000000003" stroke="#808080" stroke-width="0.8"/>
<line x1="152.24" y1="196.4" x2="152.24" y2="198.20000000000002" stroke="#808080" stroke-width="0.8"/>
<text x="152.24" y="354.30" font-size="7.5" text-anchor="middle" fill="#262626" >0.3</text>
<line x1="174.39" y1="344.70000000000005" x2="174.39" y2="342.90000000000003" stroke="#808080" stroke-width="0.8"/>
<line x1="174.39" y1="196.4" x2="174.39" y2="198.20000000000002" stroke="#808080" stroke-width="0.8"/>
<text x="174.39" y="354.30" font-size="7.5" text-anchor="middle" fill="#262626" >0.4</text>
<line x1="196.55" y1="344.70000000000005" x2="196.55" y2="342.90000000000003" stroke="#808080" stroke-width="0.8"/>
<line x1="196.55" y1="196.4" x2="196.55" y2="198.20000000000002" stroke="#808080" stroke-width="0.8"/>
<text x="196.55" y="354.30" font-size="7.5" text-anchor="middle" fill="#262626" >0.5</text>
<line x1="218.70" y1="344.70000000000005" x2="218.70" y2="342.90000000000003" stroke="#808080" stroke-width="0.8"/>
<line x1="218.70" y1="196.4" x2="218.70" y2="198.20000000000002" stroke="#808080" stroke-width="0.8"/>
<text x="218.70" y="354.30" font-size="7.5" text-anchor="middle" fill="#262626" >0.6</text>
<line x1="30.4" y1="331.22" x2="32.199999999999996" y2="331.22" stroke="#808080" stroke-width="0.8"/>
<line x1="218.7" y1="331.22" x2="216.89999999999998" y2="331.22" stroke="#808080" stroke-width="0.8"/>
<text x="27.40" y="333.92" font-size="7.5" text-anchor="end" fill="#262626" >-0.2</text>
<line x1="30.4" y1="304.25" x2="32.199999999999996" y2="304.25" stroke="#808080" stroke-width="0.8"/>
<line x1="218.7" y1="304.25" x2="216.89999999999998" y2="304.25" stroke="#808080" stroke-width="0.8"/>
<text x="27.40" y="306.95" font-size="7.5" text-anchor="end" fill="#262626" >0</text>
<line x1="30.4" y1="277.29" x2="32.199999999999996" y2="277.29" stroke="#808080" stroke-width="0.8"/>
<line x1="218.7" y1="277.29" x2="216.89999999999998" y2="277.29" stroke="#808080" stroke-width="0.8"/>
<text x="27.40" y="279.99" font-size="7.5" text-anchor="end" fill="#262626" >0.2</text>
<line x1="30.4" y1="250.33" x2="32.199999999999996" y2="250.33" stroke="#808080" stroke-width="0.8"/>
<line x1="218.7" y1="250.33" x2="216.89999999999998" y2="250.33" stroke="#808080" stroke-width="0.8"/>
<text x="27.40" y="253.03" font-size="7.5" text-anchor="end" fill="#262626" >0.4</text>
<line x1="30.4" y1="223.36" x2="32.199999999999996" y2="223.36" stroke="#808080" stroke-width="0.8"/>
<line x1="218.7" y1="223.36" x2="216.89999999999998" y2="223.36" stroke="#808080" stroke-width="0.8"/>
<text x="27.40" y="226.06" font-size="7.5" text-anchor="end" fill="#262626" >0.6</text>
<line x1="30.4" y1="196.40" x2="32.199999999999996" y2="196.40" stroke="#808080" stroke-width="0.8"/>
<line x1="218.7" y1="196.40" x2="216.89999999999998" y2="196.40" stroke="#808080" stroke-width="0.8"/>
<text x="27.40" y="199.10" font-size="7.5" text-anchor="end" fill="#262626" >0.8</text>
<text x="124.55" y="193.50" font-size="7.8" text-anchor="middle" fill="#000" >TDM of R.T.C. France cell</text>
<text x="124.55" y="363.60" font-size="7.8" text-anchor="middle" fill="#262626" >Voltage (V)</text>
<text transform="translate(11.399999999999999,270.55) rotate(-90)" font-size="7.8" text-anchor="middle" fill="#262626">Current (A)</text>
<text x="2.40" y="196.20" font-size="11" text-anchor="start" fill="#000" >(c)</text>
<rect x="65.3" y="331.6" width="117.20" height="9.10" fill="#fff" stroke="#a0a0a0" stroke-width="0.8"/>
<line x1="66.90" y1="336.15" x2="84.20" y2="336.15" stroke="#0000ff" stroke-width="1.3"/>
<text x="86.00" y="338.45" font-size="6.4" text-anchor="start" fill="#262626" >IEF</text>
<line x1="99.10" y1="336.15" x2="116.70" y2="336.15" stroke="#ff0000" stroke-width="1.25" stroke-dasharray="1 1"/>
<text x="117.40" y="338.45" font-size="6.4" text-anchor="start" fill="#262626" >LWF</text>
<circle cx="143.50" cy="336.15" r="2.1" fill="none" stroke="#1e9a1e" stroke-width="0.8"/>
<text x="153.90" y="338.45" font-size="6.4" text-anchor="start" fill="#262626" >Measured</text>
<rect x="62" y="226.8" width="121.30" height="90.40" fill="#fff" stroke="none"/>
<line x1="62" y1="299.95" x2="183.3" y2="299.95" stroke="#e8e8e8" stroke-width="0.6"/>
<line x1="62" y1="282.70" x2="183.3" y2="282.70" stroke="#e8e8e8" stroke-width="0.6"/>
<line x1="62" y1="265.44" x2="183.3" y2="265.44" stroke="#e8e8e8" stroke-width="0.6"/>
<line x1="62" y1="248.19" x2="183.3" y2="248.19" stroke="#e8e8e8" stroke-width="0.6"/>
<line x1="62" y1="230.94" x2="183.3" y2="230.94" stroke="#e8e8e8" stroke-width="0.6"/>
<rect x="64.94" y="317.00" width="1.55" height="0.20" fill="#0000ff"/>
<rect x="66.49" y="304.00" width="1.55" height="13.20" fill="#ff0000"/>
<rect x="69.44" y="296.00" width="1.55" height="21.20" fill="#0000ff"/>
<rect x="70.99" y="303.00" width="1.55" height="14.20" fill="#ff0000"/>
<rect x="73.93" y="288.00" width="1.55" height="29.20" fill="#0000ff"/>
<rect x="75.48" y="289.40" width="1.55" height="27.80" fill="#ff0000"/>
<rect x="78.42" y="306.00" width="1.55" height="11.20" fill="#0000ff"/>
<rect x="79.97" y="310.00" width="1.55" height="7.20" fill="#ff0000"/>
<rect x="82.91" y="286.00" width="1.55" height="31.20" fill="#0000ff"/>
<rect x="84.46" y="295.00" width="1.55" height="22.20" fill="#ff0000"/>
<rect x="87.41" y="286.60" width="1.55" height="30.60" fill="#0000ff"/>
<rect x="88.96" y="299.00" width="1.55" height="18.20" fill="#ff0000"/>
<rect x="91.90" y="311.00" width="1.55" height="6.20" fill="#0000ff"/>
<rect x="93.45" y="296.60" width="1.55" height="20.60" fill="#ff0000"/>
<rect x="96.39" y="290.60" width="1.55" height="26.60" fill="#0000ff"/>
<rect x="97.94" y="305.00" width="1.55" height="12.20" fill="#ff0000"/>
<rect x="100.88" y="306.00" width="1.55" height="11.20" fill="#0000ff"/>
<rect x="102.43" y="316.00" width="1.55" height="1.20" fill="#ff0000"/>
<rect x="105.38" y="307.40" width="1.55" height="9.80" fill="#0000ff"/>
<rect x="106.93" y="309.00" width="1.55" height="8.20" fill="#ff0000"/>
<rect x="109.87" y="286.00" width="1.55" height="31.20" fill="#0000ff"/>
<rect x="111.42" y="297.00" width="1.55" height="20.20" fill="#ff0000"/>
<rect x="114.36" y="289.40" width="1.55" height="27.80" fill="#0000ff"/>
<rect x="115.91" y="313.00" width="1.55" height="4.20" fill="#ff0000"/>
<rect x="118.85" y="264.60" width="1.55" height="52.60" fill="#0000ff"/>
<rect x="120.40" y="295.00" width="1.55" height="22.20" fill="#ff0000"/>
<rect x="123.35" y="291.00" width="1.55" height="26.20" fill="#0000ff"/>
<rect x="124.90" y="270.00" width="1.55" height="47.20" fill="#ff0000"/>
<rect x="127.84" y="305.00" width="1.55" height="12.20" fill="#0000ff"/>
<rect x="129.39" y="305.00" width="1.55" height="12.20" fill="#ff0000"/>
<rect x="132.33" y="307.40" width="1.55" height="9.80" fill="#0000ff"/>
<rect x="133.88" y="301.40" width="1.55" height="15.80" fill="#ff0000"/>
<rect x="136.82" y="274.00" width="1.55" height="43.20" fill="#0000ff"/>
<rect x="138.37" y="312.60" width="1.55" height="4.60" fill="#ff0000"/>
<rect x="141.32" y="282.40" width="1.55" height="34.80" fill="#0000ff"/>
<rect x="142.87" y="306.00" width="1.55" height="11.20" fill="#ff0000"/>
<rect x="145.81" y="293.00" width="1.55" height="24.20" fill="#0000ff"/>
<rect x="147.36" y="305.40" width="1.55" height="11.80" fill="#ff0000"/>
<rect x="150.30" y="292.00" width="1.55" height="25.20" fill="#0000ff"/>
<rect x="151.85" y="312.60" width="1.55" height="4.60" fill="#ff0000"/>
<rect x="154.79" y="281.00" width="1.55" height="36.20" fill="#0000ff"/>
<rect x="156.34" y="314.00" width="1.55" height="3.20" fill="#ff0000"/>
<rect x="159.29" y="313.40" width="1.55" height="3.80" fill="#0000ff"/>
<rect x="160.84" y="315.00" width="1.55" height="2.20" fill="#ff0000"/>
<rect x="163.78" y="271.00" width="1.55" height="46.20" fill="#0000ff"/>
<rect x="165.33" y="300.00" width="1.55" height="17.20" fill="#ff0000"/>
<rect x="168.27" y="275.00" width="1.55" height="42.20" fill="#0000ff"/>
<rect x="169.82" y="275.00" width="1.55" height="42.20" fill="#ff0000"/>
<rect x="172.76" y="228.60" width="1.55" height="88.60" fill="#0000ff"/>
<rect x="174.31" y="276.00" width="1.55" height="41.20" fill="#ff0000"/>
<rect x="177.26" y="260.60" width="1.55" height="56.60" fill="#0000ff"/>
<rect x="178.81" y="301.40" width="1.55" height="15.80" fill="#ff0000"/>
<rect x="62" y="226.8" width="121.30" height="90.40" fill="none" stroke="#808080" stroke-width="0.9"/>
<line x1="62" y1="317.20" x2="63.6" y2="317.20" stroke="#808080" stroke-width="0.8"/>
<line x1="183.3" y1="317.20" x2="181.70000000000002" y2="317.20" stroke="#808080" stroke-width="0.8"/>
<text x="59.50" y="319.70" font-size="7" text-anchor="end" fill="#262626" >0</text>
<line x1="62" y1="299.95" x2="63.6" y2="299.95" stroke="#808080" stroke-width="0.8"/>
<line x1="183.3" y1="299.95" x2="181.70000000000002" y2="299.95" stroke="#808080" stroke-width="0.8"/>
<text x="59.50" y="302.45" font-size="7" text-anchor="end" fill="#262626" >0.5</text>
<line x1="62" y1="282.70" x2="63.6" y2="282.70" stroke="#808080" stroke-width="0.8"/>
<line x1="183.3" y1="282.70" x2="181.70000000000002" y2="282.70" stroke="#808080" stroke-width="0.8"/>
<text x="59.50" y="285.20" font-size="7" text-anchor="end" fill="#262626" >1</text>
<line x1="62" y1="265.44" x2="63.6" y2="265.44" stroke="#808080" stroke-width="0.8"/>
<line x1="183.3" y1="265.44" x2="181.70000000000002" y2="265.44" stroke="#808080" stroke-width="0.8"/>
<text x="59.50" y="267.94" font-size="7" text-anchor="end" fill="#262626" >1.5</text>
<line x1="62" y1="248.19" x2="63.6" y2="248.19" stroke="#808080" stroke-width="0.8"/>
<line x1="183.3" y1="248.19" x2="181.70000000000002" y2="248.19" stroke="#808080" stroke-width="0.8"/>
<text x="59.50" y="250.69" font-size="7" text-anchor="end" fill="#262626" >2</text>
<line x1="62" y1="230.94" x2="63.6" y2="230.94" stroke="#808080" stroke-width="0.8"/>
<line x1="183.3" y1="230.94" x2="181.70000000000002" y2="230.94" stroke="#808080" stroke-width="0.8"/>
<text x="59.50" y="233.44" font-size="7" text-anchor="end" fill="#262626" >2.5</text>
<text transform="translate(46.7,272.00) rotate(-90)" font-size="7.3" text-anchor="middle" fill="#262626">Absolute error (A)</text>
<text x="62.3" y="225.60000000000002" font-size="6.8" fill="#262626">×10<tspan dy="-3.4" font-size="5">-3</tspan></text>
<text x="66.8" y="241.29999999999998" font-size="6.85" fill="#000">sum of IAE<tspan dx="0.5" dy="3.2" font-size="5.8">IEF</tspan></text>
<text x="115.2" y="241.29999999999998" font-size="6.7" fill="#000">=</text>
<text x="121.6" y="241.29999999999998" font-size="6.7" fill="#000">0.021275224</text>
<text x="66.8" y="251.9" font-size="6.85" fill="#000">sum of IAE<tspan dx="0.5" dy="3.2" font-size="5.8">LWF</tspan></text>
<text x="115.2" y="251.9" font-size="6.7" fill="#000">=</text>
<text x="120.6" y="251.9" font-size="6.7" fill="#000">0.012291653</text>
<rect x="67.3" y="258.8" width="35.30" height="16.40" fill="#fff" stroke="#a0a0a0" stroke-width="0.8"/>
<rect x="69.80" y="261.10" width="17.1" height="5.2" fill="#0000ff"/>
<rect x="69.80" y="268.20" width="17.1" height="5.5" fill="#ff0000"/>
<text x="88.10" y="266.10" font-size="6.2" text-anchor="start" fill="#000" >IEF</text>
<text x="88.10" y="273.40" font-size="6.2" text-anchor="start" fill="#000" >LWF</text>
<polyline points="280.06,200.24 297.20,200.39 312.90,200.81 327.26,201.23 340.41,201.66 352.44,201.92 363.46,202.08 373.55,202.50 382.77,203.18 391.21,204.81 398.91,207.44 405.95,211.38 412.36,216.95 418.22,223.78 423.55,232.29 428.41,241.96 432.83,252.47 436.87,263.72 440.55,275.17 443.91,286.74 446.98,298.03 449.77,309.49 452.33,320.32 454.66,330.62 456.79,340.50" fill="none" stroke="#0000ff" stroke-width="1.3"/>
<polyline points="280.06,200.24 297.20,200.39 312.90,200.81 327.26,201.23 340.41,201.66 352.44,201.92 363.46,202.08 373.55,202.50 382.77,203.18 391.21,204.81 398.91,207.44 405.95,211.38 412.36,216.95 418.22,223.78 423.55,232.29 428.41,241.96 432.83,252.47 436.87,263.72 440.55,275.17 443.91,286.74 446.98,298.03 449.77,309.49 452.33,320.32 454.66,330.62 456.79,340.50" fill="none" stroke="#ff0000" stroke-width="1.1" stroke-dasharray="1.1 1.1"/>
<circle cx="280.06" cy="200.24" r="2.4" fill="none" stroke="#1e9a1e" stroke-width="0.9"/>
<circle cx="297.20" cy="200.39" r="2.4" fill="none" stroke="#1e9a1e" stroke-width="0.9"/>
<circle cx="312.90" cy="200.81" r="2.4" fill="none" stroke="#1e9a1e" stroke-width="0.9"/>
<circle cx="327.26" cy="201.23" r="2.4" fill="none" stroke="#1e9a1e" stroke-width="0.9"/>
<circle cx="340.41" cy="201.66" r="2.4" fill="none" stroke="#1e9a1e" stroke-width="0.9"/>
<circle cx="352.44" cy="201.92" r="2.4" fill="none" stroke="#1e9a1e" stroke-width="0.9"/>
<circle cx="363.46" cy="202.08" r="2.4" fill="none" stroke="#1e9a1e" stroke-width="0.9"/>
<circle cx="373.55" cy="202.50" r="2.4" fill="none" stroke="#1e9a1e" stroke-width="0.9"/>
<circle cx="382.77" cy="203.18" r="2.4" fill="none" stroke="#1e9a1e" stroke-width="0.9"/>
<circle cx="391.21" cy="204.81" r="2.4" fill="none" stroke="#1e9a1e" stroke-width="0.9"/>
<circle cx="398.91" cy="207.44" r="2.4" fill="none" stroke="#1e9a1e" stroke-width="0.9"/>
<circle cx="405.95" cy="211.38" r="2.4" fill="none" stroke="#1e9a1e" stroke-width="0.9"/>
<circle cx="412.36" cy="216.95" r="2.4" fill="none" stroke="#1e9a1e" stroke-width="0.9"/>
<circle cx="418.22" cy="223.78" r="2.4" fill="none" stroke="#1e9a1e" stroke-width="0.9"/>
<circle cx="423.55" cy="232.29" r="2.4" fill="none" stroke="#1e9a1e" stroke-width="0.9"/>
<circle cx="428.41" cy="241.96" r="2.4" fill="none" stroke="#1e9a1e" stroke-width="0.9"/>
<circle cx="432.83" cy="252.47" r="2.4" fill="none" stroke="#1e9a1e" stroke-width="0.9"/>
<circle cx="436.87" cy="263.72" r="2.4" fill="none" stroke="#1e9a1e" stroke-width="0.9"/>
<circle cx="440.55" cy="275.17" r="2.4" fill="none" stroke="#1e9a1e" stroke-width="0.9"/>
<circle cx="443.91" cy="286.74" r="2.4" fill="none" stroke="#1e9a1e" stroke-width="0.9"/>
<circle cx="446.98" cy="298.03" r="2.4" fill="none" stroke="#1e9a1e" stroke-width="0.9"/>
<circle cx="449.77" cy="309.49" r="2.4" fill="none" stroke="#1e9a1e" stroke-width="0.9"/>
<circle cx="452.33" cy="320.32" r="2.4" fill="none" stroke="#1e9a1e" stroke-width="0.9"/>
<circle cx="454.66" cy="330.62" r="2.4" fill="none" stroke="#1e9a1e" stroke-width="0.9"/>
<circle cx="456.79" cy="340.50" r="2.4" fill="none" stroke="#1e9a1e" stroke-width="0.9"/>
<rect x="273.7" y="196.4" width="188.30" height="148.30" fill="none" stroke="#808080" stroke-width="0.9"/>
<line x1="278.79" y1="344.70000000000005" x2="278.79" y2="342.90000000000003" stroke="#808080" stroke-width="0.8"/>
<line x1="278.79" y1="196.4" x2="278.79" y2="198.20000000000002" stroke="#808080" stroke-width="0.8"/>
<text x="278.79" y="354.30" font-size="7.5" text-anchor="middle" fill="#262626" >0</text>
<line x1="299.15" y1="344.70000000000005" x2="299.15" y2="342.90000000000003" stroke="#808080" stroke-width="0.8"/>
<line x1="299.15" y1="196.4" x2="299.15" y2="198.20000000000002" stroke="#808080" stroke-width="0.8"/>
<text x="299.15" y="354.30" font-size="7.5" text-anchor="middle" fill="#262626" >2</text>
<line x1="319.50" y1="344.70000000000005" x2="319.50" y2="342.90000000000003" stroke="#808080" stroke-width="0.8"/>
<line x1="319.50" y1="196.4" x2="319.50" y2="198.20000000000002" stroke="#808080" stroke-width="0.8"/>
<text x="319.50" y="354.30" font-size="7.5" text-anchor="middle" fill="#262626" >4</text>
<line x1="339.86" y1="344.70000000000005" x2="339.86" y2="342.90000000000003" stroke="#808080" stroke-width="0.8"/>
<line x1="339.86" y1="196.4" x2="339.86" y2="198.20000000000002" stroke="#808080" stroke-width="0.8"/>
<text x="339.86" y="354.30" font-size="7.5" text-anchor="middle" fill="#262626" >6</text>
<line x1="360.22" y1="344.70000000000005" x2="360.22" y2="342.90000000000003" stroke="#808080" stroke-width="0.8"/>
<line x1="360.22" y1="196.4" x2="360.22" y2="198.20000000000002" stroke="#808080" stroke-width="0.8"/>
<text x="360.22" y="354.30" font-size="7.5" text-anchor="middle" fill="#262626" >8</text>
<line x1="380.57" y1="344.70000000000005" x2="380.57" y2="342.90000000000003" stroke="#808080" stroke-width="0.8"/>
<line x1="380.57" y1="196.4" x2="380.57" y2="198.20000000000002" stroke="#808080" stroke-width="0.8"/>
<text x="380.57" y="354.30" font-size="7.5" text-anchor="middle" fill="#262626" >10</text>
<line x1="400.93" y1="344.70000000000005" x2="400.93" y2="342.90000000000003" stroke="#808080" stroke-width="0.8"/>
<line x1="400.93" y1="196.4" x2="400.93" y2="198.20000000000002" stroke="#808080" stroke-width="0.8"/>
<text x="400.93" y="354.30" font-size="7.5" text-anchor="middle" fill="#262626" >12</text>
<line x1="421.29" y1="344.70000000000005" x2="421.29" y2="342.90000000000003" stroke="#808080" stroke-width="0.8"/>
<line x1="421.29" y1="196.4" x2="421.29" y2="198.20000000000002" stroke="#808080" stroke-width="0.8"/>
<text x="421.29" y="354.30" font-size="7.5" text-anchor="middle" fill="#262626" >14</text>
<line x1="441.64" y1="344.70000000000005" x2="441.64" y2="342.90000000000003" stroke="#808080" stroke-width="0.8"/>
<line x1="441.64" y1="196.4" x2="441.64" y2="198.20000000000002" stroke="#808080" stroke-width="0.8"/>
<text x="441.64" y="354.30" font-size="7.5" text-anchor="middle" fill="#262626" >16</text>
<line x1="462.00" y1="344.70000000000005" x2="462.00" y2="342.90000000000003" stroke="#808080" stroke-width="0.8"/>
<line x1="462.00" y1="196.4" x2="462.00" y2="198.20000000000002" stroke="#808080" stroke-width="0.8"/>
<text x="462.00" y="354.30" font-size="7.5" text-anchor="middle" fill="#262626" >18</text>
<line x1="273.7" y1="329.67" x2="275.5" y2="329.67" stroke="#808080" stroke-width="0.8"/>
<line x1="462.0" y1="329.67" x2="460.2" y2="329.67" stroke="#808080" stroke-width="0.8"/>
<text x="270.70" y="332.37" font-size="7.5" text-anchor="end" fill="#262626" >-0.2</text>
<line x1="273.7" y1="308.65" x2="275.5" y2="308.65" stroke="#808080" stroke-width="0.8"/>
<line x1="462.0" y1="308.65" x2="460.2" y2="308.65" stroke="#808080" stroke-width="0.8"/>
<text x="270.70" y="311.35" font-size="7.5" text-anchor="end" fill="#262626" >0</text>
<line x1="273.7" y1="287.63" x2="275.5" y2="287.63" stroke="#808080" stroke-width="0.8"/>
<line x1="462.0" y1="287.63" x2="460.2" y2="287.63" stroke="#808080" stroke-width="0.8"/>
<text x="270.70" y="290.33" font-size="7.5" text-anchor="end" fill="#262626" >0.2</text>
<line x1="273.7" y1="266.61" x2="275.5" y2="266.61" stroke="#808080" stroke-width="0.8"/>
<line x1="462.0" y1="266.61" x2="460.2" y2="266.61" stroke="#808080" stroke-width="0.8"/>
<text x="270.70" y="269.31" font-size="7.5" text-anchor="end" fill="#262626" >0.4</text>
<line x1="273.7" y1="245.59" x2="275.5" y2="245.59" stroke="#808080" stroke-width="0.8"/>
<line x1="462.0" y1="245.59" x2="460.2" y2="245.59" stroke="#808080" stroke-width="0.8"/>
<text x="270.70" y="248.29" font-size="7.5" text-anchor="end" fill="#262626" >0.6</text>
<line x1="273.7" y1="224.57" x2="275.5" y2="224.57" stroke="#808080" stroke-width="0.8"/>
<line x1="462.0" y1="224.57" x2="460.2" y2="224.57" stroke="#808080" stroke-width="0.8"/>
<text x="270.70" y="227.27" font-size="7.5" text-anchor="end" fill="#262626" >0.8</text>
<line x1="273.7" y1="203.55" x2="275.5" y2="203.55" stroke="#808080" stroke-width="0.8"/>
<line x1="462.0" y1="203.55" x2="460.2" y2="203.55" stroke="#808080" stroke-width="0.8"/>
<text x="270.70" y="206.25" font-size="7.5" text-anchor="end" fill="#262626" >1</text>
<text x="367.85" y="193.50" font-size="7.8" text-anchor="middle" fill="#000" >SDM of PWP201 module</text>
<text x="367.85" y="363.60" font-size="7.8" text-anchor="middle" fill="#262626" >Voltage (V)</text>
<text transform="translate(255.0,270.55) rotate(-90)" font-size="7.8" text-anchor="middle" fill="#262626">Current (A)</text>
<text x="245.70" y="196.20" font-size="11" text-anchor="start" fill="#000" >(d)</text>
<rect x="308.6" y="331.0" width="117.20" height="9.10" fill="#fff" stroke="#a0a0a0" stroke-width="0.8"/>
<line x1="310.20" y1="335.55" x2="327.50" y2="335.55" stroke="#0000ff" stroke-width="1.3"/>
<text x="329.30" y="337.85" font-size="6.4" text-anchor="start" fill="#262626" >IEF</text>
<line x1="342.40" y1="335.55" x2="360.00" y2="335.55" stroke="#ff0000" stroke-width="1.25" stroke-dasharray="1 1"/>
<text x="360.70" y="337.85" font-size="6.4" text-anchor="start" fill="#262626" >LWF</text>
<circle cx="386.80" cy="335.55" r="2.1" fill="none" stroke="#1e9a1e" stroke-width="0.8"/>
<text x="397.20" y="337.85" font-size="6.4" text-anchor="start" fill="#262626" >Measured</text>
<rect x="292.6" y="227" width="121.40" height="90.40" fill="#fff" stroke="none"/>
<line x1="292.6" y1="303.41" x2="414" y2="303.41" stroke="#e8e8e8" stroke-width="0.6"/>
<line x1="292.6" y1="289.41" x2="414" y2="289.41" stroke="#e8e8e8" stroke-width="0.6"/>
<line x1="292.6" y1="275.42" x2="414" y2="275.42" stroke="#e8e8e8" stroke-width="0.6"/>
<line x1="292.6" y1="261.42" x2="414" y2="261.42" stroke="#e8e8e8" stroke-width="0.6"/>
<line x1="292.6" y1="247.43" x2="414" y2="247.43" stroke="#e8e8e8" stroke-width="0.6"/>
<line x1="292.6" y1="233.44" x2="414" y2="233.44" stroke="#e8e8e8" stroke-width="0.6"/>
<rect x="295.72" y="284.40" width="1.55" height="33.00" fill="#0000ff"/>
<rect x="297.27" y="293.00" width="1.55" height="24.40" fill="#ff0000"/>
<rect x="300.39" y="281.00" width="1.55" height="36.40" fill="#0000ff"/>
<rect x="301.94" y="285.00" width="1.55" height="32.40" fill="#ff0000"/>
<rect x="305.06" y="314.00" width="1.55" height="3.40" fill="#0000ff"/>
<rect x="306.61" y="314.00" width="1.55" height="3.40" fill="#ff0000"/>
<rect x="309.73" y="288.00" width="1.55" height="29.40" fill="#0000ff"/>
<rect x="311.28" y="292.00" width="1.55" height="25.40" fill="#ff0000"/>
<rect x="314.40" y="257.40" width="1.55" height="60.00" fill="#0000ff"/>
<rect x="315.95" y="264.00" width="1.55" height="53.40" fill="#ff0000"/>
<rect x="319.07" y="255.60" width="1.55" height="61.80" fill="#0000ff"/>
<rect x="320.62" y="264.00" width="1.55" height="53.40" fill="#ff0000"/>
<rect x="323.73" y="284.40" width="1.55" height="33.00" fill="#0000ff"/>
<rect x="325.28" y="293.00" width="1.55" height="24.40" fill="#ff0000"/>
<rect x="328.40" y="311.00" width="1.55" height="6.40" fill="#0000ff"/>
<rect x="329.95" y="317.40" width="1.55" height="0.00" fill="#ff0000"/>
<rect x="333.07" y="277.60" width="1.55" height="39.80" fill="#0000ff"/>
<rect x="334.62" y="274.40" width="1.55" height="43.00" fill="#ff0000"/>
<rect x="337.74" y="269.00" width="1.55" height="48.40" fill="#0000ff"/>
<rect x="339.29" y="272.00" width="1.55" height="45.40" fill="#ff0000"/>
<rect x="342.41" y="269.00" width="1.55" height="48.40" fill="#0000ff"/>
<rect x="343.96" y="278.00" width="1.55" height="39.40" fill="#ff0000"/>
<rect x="347.08" y="280.00" width="1.55" height="37.40" fill="#0000ff"/>
<rect x="348.63" y="295.00" width="1.55" height="22.40" fill="#ff0000"/>
<rect x="351.75" y="316.00" width="1.55" height="1.40" fill="#0000ff"/>
<rect x="353.30" y="302.40" width="1.55" height="15.00" fill="#ff0000"/>
<rect x="356.42" y="314.00" width="1.55" height="3.40" fill="#0000ff"/>
<rect x="357.97" y="307.60" width="1.55" height="9.80" fill="#ff0000"/>
<rect x="361.09" y="292.00" width="1.55" height="25.40" fill="#0000ff"/>
<rect x="362.64" y="289.00" width="1.55" height="28.40" fill="#ff0000"/>
<rect x="365.76" y="280.40" width="1.55" height="37.00" fill="#0000ff"/>
<rect x="367.31" y="287.60" width="1.55" height="29.80" fill="#ff0000"/>
<rect x="370.43" y="294.00" width="1.55" height="23.40" fill="#0000ff"/>
<rect x="371.98" y="304.40" width="1.55" height="13.00" fill="#ff0000"/>
<rect x="375.10" y="289.40" width="1.55" height="28.00" fill="#0000ff"/>
<rect x="376.65" y="308.00" width="1.55" height="9.40" fill="#ff0000"/>
<rect x="379.77" y="314.00" width="1.55" height="3.40" fill="#0000ff"/>
<rect x="381.32" y="308.40" width="1.55" height="9.00" fill="#ff0000"/>
<rect x="384.43" y="302.00" width="1.55" height="15.40" fill="#0000ff"/>
<rect x="385.98" y="297.00" width="1.55" height="20.40" fill="#ff0000"/>
<rect x="389.10" y="250.00" width="1.55" height="67.40" fill="#0000ff"/>
<rect x="390.65" y="270.60" width="1.55" height="46.80" fill="#ff0000"/>
<rect x="393.77" y="313.00" width="1.55" height="4.40" fill="#0000ff"/>
<rect x="395.32" y="309.00" width="1.55" height="8.40" fill="#ff0000"/>
<rect x="398.44" y="317.00" width="1.55" height="0.40" fill="#0000ff"/>
<rect x="399.99" y="317.00" width="1.55" height="0.40" fill="#ff0000"/>
<rect x="403.11" y="314.00" width="1.55" height="3.40" fill="#0000ff"/>
<rect x="404.66" y="312.00" width="1.55" height="5.40" fill="#ff0000"/>
<rect x="407.78" y="288.00" width="1.55" height="29.40" fill="#0000ff"/>
<rect x="409.33" y="288.00" width="1.55" height="29.40" fill="#ff0000"/>
<rect x="292.6" y="227" width="121.40" height="90.40" fill="none" stroke="#808080" stroke-width="0.9"/>
<line x1="292.6" y1="317.40" x2="294.20000000000005" y2="317.40" stroke="#808080" stroke-width="0.8"/>
<line x1="414" y1="317.40" x2="412.4" y2="317.40" stroke="#808080" stroke-width="0.8"/>
<text x="290.10" y="319.90" font-size="7" text-anchor="end" fill="#262626" >0</text>
<line x1="292.6" y1="303.41" x2="294.20000000000005" y2="303.41" stroke="#808080" stroke-width="0.8"/>
<line x1="414" y1="303.41" x2="412.4" y2="303.41" stroke="#808080" stroke-width="0.8"/>
<text x="290.10" y="305.91" font-size="7" text-anchor="end" fill="#262626" >1</text>
<line x1="292.6" y1="289.41" x2="294.20000000000005" y2="289.41" stroke="#808080" stroke-width="0.8"/>
<line x1="414" y1="289.41" x2="412.4" y2="289.41" stroke="#808080" stroke-width="0.8"/>
<text x="290.10" y="291.91" font-size="7" text-anchor="end" fill="#262626" >2</text>
<line x1="292.6" y1="275.42" x2="294.20000000000005" y2="275.42" stroke="#808080" stroke-width="0.8"/>
<line x1="414" y1="275.42" x2="412.4" y2="275.42" stroke="#808080" stroke-width="0.8"/>
<text x="290.10" y="277.92" font-size="7" text-anchor="end" fill="#262626" >3</text>
<line x1="292.6" y1="261.42" x2="294.20000000000005" y2="261.42" stroke="#808080" stroke-width="0.8"/>
<line x1="414" y1="261.42" x2="412.4" y2="261.42" stroke="#808080" stroke-width="0.8"/>
<text x="290.10" y="263.92" font-size="7" text-anchor="end" fill="#262626" >4</text>
<line x1="292.6" y1="247.43" x2="294.20000000000005" y2="247.43" stroke="#808080" stroke-width="0.8"/>
<line x1="414" y1="247.43" x2="412.4" y2="247.43" stroke="#808080" stroke-width="0.8"/>
<text x="290.10" y="249.93" font-size="7" text-anchor="end" fill="#262626" >5</text>
<line x1="292.6" y1="233.44" x2="294.20000000000005" y2="233.44" stroke="#808080" stroke-width="0.8"/>
<line x1="414" y1="233.44" x2="412.4" y2="233.44" stroke="#808080" stroke-width="0.8"/>
<text x="290.10" y="235.94" font-size="7" text-anchor="end" fill="#262626" >6</text>
<text transform="translate(283.0,272.20) rotate(-90)" font-size="7.3" text-anchor="middle" fill="#262626">Absolute error (A)</text>
<text x="292.90000000000003" y="225.8" font-size="6.8" fill="#262626">×10<tspan dy="-3.4" font-size="5">-3</tspan></text>
<text x="297.8" y="235.2" font-size="6.85" fill="#000">sum of IAE<tspan dx="0.5" dy="3.2" font-size="5.8">IEF</tspan></text>
<text x="346.2" y="235.2" font-size="6.7" fill="#000">=</text>
<text x="352.4" y="235.2" font-size="6.7" fill="#000">0.048923675</text>
<text x="297.8" y="246.2" font-size="6.85" fill="#000">sum of IAE<tspan dx="0.5" dy="3.2" font-size="5.8">LWF</tspan></text>
<text x="346.2" y="246.2" font-size="6.7" fill="#000">=</text>
<text x="351.4" y="246.2" font-size="6.7" fill="#000">0.042557739</text>
<rect x="350.4" y="253.3" width="34.80" height="16.30" fill="#fff" stroke="#a0a0a0" stroke-width="0.8"/>
<rect x="352.90" y="255.60" width="17.1" height="5.2" fill="#0000ff"/>
<rect x="352.90" y="262.70" width="17.1" height="5.5" fill="#ff0000"/>
<text x="371.20" y="260.60" font-size="6.2" text-anchor="start" fill="#000" >IEF</text>
<text x="371.20" y="267.90" font-size="6.2" text-anchor="start" fill="#000" >LWF</text>
<polyline points="34.68,386.36 35.69,386.36 53.83,386.51 81.19,387.15 96.82,387.39 117.53,387.79 133.88,388.19 142.52,388.51 149.11,389.07 155.28,389.87 162.04,391.63 168.12,392.91 175.05,396.03 177.70,397.47 180.01,399.39 181.30,400.59 182.92,402.18 187.97,408.34 197.99,429.93 214.59,519.31" fill="none" stroke="#0000ff" stroke-width="1.3"/>
<polyline points="34.68,386.36 35.69,386.36 53.83,386.51 81.19,387.15 96.82,387.39 117.53,387.79 133.88,388.19 142.52,388.51 149.11,389.07 155.28,389.87 162.04,391.63 168.12,392.91 175.05,396.03 177.70,397.47 180.01,399.39 181.30,400.59 182.92,402.18 187.97,408.34 197.99,429.93 214.59,519.31" fill="none" stroke="#ff0000" stroke-width="1.1" stroke-dasharray="1.1 1.1"/>
<circle cx="34.68" cy="386.36" r="2.4" fill="none" stroke="#1e9a1e" stroke-width="0.9"/>
<circle cx="35.69" cy="386.36" r="2.4" fill="none" stroke="#1e9a1e" stroke-width="0.9"/>
<circle cx="53.83" cy="386.51" r="2.4" fill="none" stroke="#1e9a1e" stroke-width="0.9"/>
<circle cx="81.19" cy="387.15" r="2.4" fill="none" stroke="#1e9a1e" stroke-width="0.9"/>
<circle cx="96.82" cy="387.39" r="2.4" fill="none" stroke="#1e9a1e" stroke-width="0.9"/>
<circle cx="117.53" cy="387.79" r="2.4" fill="none" stroke="#1e9a1e" stroke-width="0.9"/>
<circle cx="133.88" cy="388.19" r="2.4" fill="none" stroke="#1e9a1e" stroke-width="0.9"/>
<circle cx="142.52" cy="388.51" r="2.4" fill="none" stroke="#1e9a1e" stroke-width="0.9"/>
<circle cx="149.11" cy="389.07" r="2.4" fill="none" stroke="#1e9a1e" stroke-width="0.9"/>
<circle cx="155.28" cy="389.87" r="2.4" fill="none" stroke="#1e9a1e" stroke-width="0.9"/>
<circle cx="162.04" cy="391.63" r="2.4" fill="none" stroke="#1e9a1e" stroke-width="0.9"/>
<circle cx="168.12" cy="392.91" r="2.4" fill="none" stroke="#1e9a1e" stroke-width="0.9"/>
<circle cx="175.05" cy="396.03" r="2.4" fill="none" stroke="#1e9a1e" stroke-width="0.9"/>
<circle cx="177.70" cy="397.47" r="2.4" fill="none" stroke="#1e9a1e" stroke-width="0.9"/>
<circle cx="180.01" cy="399.39" r="2.4" fill="none" stroke="#1e9a1e" stroke-width="0.9"/>
<circle cx="181.30" cy="400.59" r="2.4" fill="none" stroke="#1e9a1e" stroke-width="0.9"/>
<circle cx="182.92" cy="402.18" r="2.4" fill="none" stroke="#1e9a1e" stroke-width="0.9"/>
<circle cx="187.97" cy="408.34" r="2.4" fill="none" stroke="#1e9a1e" stroke-width="0.9"/>
<circle cx="197.99" cy="429.93" r="2.4" fill="none" stroke="#1e9a1e" stroke-width="0.9"/>
<circle cx="214.59" cy="519.31" r="2.4" fill="none" stroke="#1e9a1e" stroke-width="0.9"/>
<rect x="30.4" y="379.0" width="188.30" height="148.30" fill="none" stroke="#808080" stroke-width="0.9"/>
<line x1="34.68" y1="527.3" x2="34.68" y2="525.5" stroke="#808080" stroke-width="0.8"/>
<line x1="34.68" y1="379.0" x2="34.68" y2="380.8" stroke="#808080" stroke-width="0.8"/>
<text x="34.68" y="536.90" font-size="7.5" text-anchor="middle" fill="#262626" >0</text>
<line x1="77.47" y1="527.3" x2="77.47" y2="525.5" stroke="#808080" stroke-width="0.8"/>
<line x1="77.47" y1="379.0" x2="77.47" y2="380.8" stroke="#808080" stroke-width="0.8"/>
<text x="77.47" y="536.90" font-size="7.5" text-anchor="middle" fill="#262626" >5</text>
<line x1="120.27" y1="527.3" x2="120.27" y2="525.5" stroke="#808080" stroke-width="0.8"/>
<line x1="120.27" y1="379.0" x2="120.27" y2="380.8" stroke="#808080" stroke-width="0.8"/>
<text x="120.27" y="536.90" font-size="7.5" text-anchor="middle" fill="#262626" >10</text>
<line x1="163.07" y1="527.3" x2="163.07" y2="525.5" stroke="#808080" stroke-width="0.8"/>
<line x1="163.07" y1="379.0" x2="163.07" y2="380.8" stroke="#808080" stroke-width="0.8"/>
<text x="163.07" y="536.90" font-size="7.5" text-anchor="middle" fill="#262626" >15</text>
<line x1="205.86" y1="527.3" x2="205.86" y2="525.5" stroke="#808080" stroke-width="0.8"/>
<line x1="205.86" y1="379.0" x2="205.86" y2="380.8" stroke="#808080" stroke-width="0.8"/>
<text x="205.86" y="536.90" font-size="7.5" text-anchor="middle" fill="#262626" >20</text>
<line x1="30.4" y1="519.31" x2="32.199999999999996" y2="519.31" stroke="#808080" stroke-width="0.8"/>
<line x1="218.7" y1="519.31" x2="216.89999999999998" y2="519.31" stroke="#808080" stroke-width="0.8"/>
<text x="27.40" y="522.01" font-size="7.5" text-anchor="end" fill="#262626" >0</text>
<line x1="30.4" y1="503.32" x2="32.199999999999996" y2="503.32" stroke="#808080" stroke-width="0.8"/>
<line x1="218.7" y1="503.32" x2="216.89999999999998" y2="503.32" stroke="#808080" stroke-width="0.8"/>
<text x="27.40" y="506.02" font-size="7.5" text-anchor="end" fill="#262626" >0.2</text>
<line x1="30.4" y1="487.33" x2="32.199999999999996" y2="487.33" stroke="#808080" stroke-width="0.8"/>
<line x1="218.7" y1="487.33" x2="216.89999999999998" y2="487.33" stroke="#808080" stroke-width="0.8"/>
<text x="27.40" y="490.03" font-size="7.5" text-anchor="end" fill="#262626" >0.4</text>
<line x1="30.4" y1="471.34" x2="32.199999999999996" y2="471.34" stroke="#808080" stroke-width="0.8"/>
<line x1="218.7" y1="471.34" x2="216.89999999999998" y2="471.34" stroke="#808080" stroke-width="0.8"/>
<text x="27.40" y="474.04" font-size="7.5" text-anchor="end" fill="#262626" >0.6</text>
<line x1="30.4" y1="455.35" x2="32.199999999999996" y2="455.35" stroke="#808080" stroke-width="0.8"/>
<line x1="218.7" y1="455.35" x2="216.89999999999998" y2="455.35" stroke="#808080" stroke-width="0.8"/>
<text x="27.40" y="458.05" font-size="7.5" text-anchor="end" fill="#262626" >0.8</text>
<line x1="30.4" y1="439.36" x2="32.199999999999996" y2="439.36" stroke="#808080" stroke-width="0.8"/>
<line x1="218.7" y1="439.36" x2="216.89999999999998" y2="439.36" stroke="#808080" stroke-width="0.8"/>
<text x="27.40" y="442.06" font-size="7.5" text-anchor="end" fill="#262626" >1</text>
<line x1="30.4" y1="423.37" x2="32.199999999999996" y2="423.37" stroke="#808080" stroke-width="0.8"/>
<line x1="218.7" y1="423.37" x2="216.89999999999998" y2="423.37" stroke="#808080" stroke-width="0.8"/>
<text x="27.40" y="426.07" font-size="7.5" text-anchor="end" fill="#262626" >1.2</text>
<line x1="30.4" y1="407.38" x2="32.199999999999996" y2="407.38" stroke="#808080" stroke-width="0.8"/>
<line x1="218.7" y1="407.38" x2="216.89999999999998" y2="407.38" stroke="#808080" stroke-width="0.8"/>
<text x="27.40" y="410.08" font-size="7.5" text-anchor="end" fill="#262626" >1.4</text>
<line x1="30.4" y1="391.39" x2="32.199999999999996" y2="391.39" stroke="#808080" stroke-width="0.8"/>
<line x1="218.7" y1="391.39" x2="216.89999999999998" y2="391.39" stroke="#808080" stroke-width="0.8"/>
<text x="27.40" y="394.09" font-size="7.5" text-anchor="end" fill="#262626" >1.6</text>
<text x="124.55" y="376.10" font-size="7.8" text-anchor="middle" fill="#000" >SDM of STM6-40/36 module</text>
<text x="124.55" y="546.20" font-size="7.8" text-anchor="middle" fill="#262626" >Voltage (V)</text>
<text transform="translate(13.599999999999998,453.15) rotate(-90)" font-size="7.8" text-anchor="middle" fill="#262626">Current (A)</text>
<text x="2.40" y="378.80" font-size="11" text-anchor="start" fill="#000" >(e)</text>
<rect x="65.3" y="513.6" width="117.20" height="9.10" fill="#fff" stroke="#a0a0a0" stroke-width="0.8"/>
<line x1="66.90" y1="518.15" x2="84.20" y2="518.15" stroke="#0000ff" stroke-width="1.3"/>
<text x="86.00" y="520.45" font-size="6.4" text-anchor="start" fill="#262626" >IEF</text>
<line x1="99.10" y1="518.15" x2="116.70" y2="518.15" stroke="#ff0000" stroke-width="1.25" stroke-dasharray="1 1"/>
<text x="117.40" y="520.45" font-size="6.4" text-anchor="start" fill="#262626" >LWF</text>
<circle cx="143.50" cy="518.15" r="2.1" fill="none" stroke="#1e9a1e" stroke-width="0.8"/>
<text x="153.90" y="520.45" font-size="6.4" text-anchor="start" fill="#262626" >Measured</text>
<rect x="61.7" y="409" width="121.30" height="91.20" fill="#fff" stroke="none"/>
<line x1="61.7" y1="477.40" x2="183" y2="477.40" stroke="#e8e8e8" stroke-width="0.6"/>
<line x1="61.7" y1="454.60" x2="183" y2="454.60" stroke="#e8e8e8" stroke-width="0.6"/>
<line x1="61.7" y1="431.80" x2="183" y2="431.80" stroke="#e8e8e8" stroke-width="0.6"/>
<rect x="65.78" y="494.70" width="1.7" height="5.50" fill="#0000ff"/>
<rect x="67.48" y="494.70" width="1.7" height="5.50" fill="#ff0000"/>
<rect x="71.55" y="497.00" width="1.7" height="3.20" fill="#0000ff"/>
<rect x="73.25" y="497.20" width="1.7" height="3.00" fill="#ff0000"/>
<rect x="77.33" y="483.10" width="1.7" height="17.10" fill="#0000ff"/>
<rect x="79.03" y="483.50" width="1.7" height="16.70" fill="#ff0000"/>
<rect x="83.10" y="489.50" width="1.7" height="10.70" fill="#0000ff"/>
<rect x="84.80" y="489.80" width="1.7" height="10.40" fill="#ff0000"/>
<rect x="88.88" y="493.50" width="1.7" height="6.70" fill="#0000ff"/>
<rect x="90.58" y="493.50" width="1.7" height="6.70" fill="#ff0000"/>
<rect x="94.66" y="495.00" width="1.7" height="5.20" fill="#0000ff"/>
<rect x="96.36" y="495.00" width="1.7" height="5.20" fill="#ff0000"/>
<rect x="100.43" y="491.00" width="1.7" height="9.20" fill="#0000ff"/>
<rect x="102.13" y="491.30" width="1.7" height="8.90" fill="#ff0000"/>
<rect x="106.21" y="473.90" width="1.7" height="26.30" fill="#0000ff"/>
<rect x="107.91" y="474.10" width="1.7" height="26.10" fill="#ff0000"/>
<rect x="111.99" y="480.10" width="1.7" height="20.10" fill="#0000ff"/>
<rect x="113.69" y="480.40" width="1.7" height="19.80" fill="#ff0000"/>
<rect x="117.76" y="492.00" width="1.7" height="8.20" fill="#0000ff"/>
<rect x="119.46" y="492.00" width="1.7" height="8.20" fill="#ff0000"/>
<rect x="123.54" y="431.00" width="1.7" height="69.20" fill="#0000ff"/>
<rect x="125.24" y="431.00" width="1.7" height="69.20" fill="#ff0000"/>
<rect x="129.31" y="493.00" width="1.7" height="7.20" fill="#0000ff"/>
<rect x="131.01" y="493.00" width="1.7" height="7.20" fill="#ff0000"/>
<rect x="135.09" y="496.00" width="1.7" height="4.20" fill="#0000ff"/>
<rect x="136.79" y="496.00" width="1.7" height="4.20" fill="#ff0000"/>
<rect x="140.87" y="468.00" width="1.7" height="32.20" fill="#0000ff"/>
<rect x="142.57" y="468.00" width="1.7" height="32.20" fill="#ff0000"/>
<rect x="146.64" y="491.00" width="1.7" height="9.20" fill="#0000ff"/>
<rect x="148.34" y="491.00" width="1.7" height="9.20" fill="#ff0000"/>
<rect x="152.42" y="497.00" width="1.7" height="3.20" fill="#0000ff"/>
<rect x="154.12" y="497.00" width="1.7" height="3.20" fill="#ff0000"/>
<rect x="158.20" y="492.40" width="1.7" height="7.80" fill="#0000ff"/>
<rect x="159.90" y="492.40" width="1.7" height="7.80" fill="#ff0000"/>
<rect x="163.97" y="495.00" width="1.7" height="5.20" fill="#0000ff"/>
<rect x="165.67" y="495.00" width="1.7" height="5.20" fill="#ff0000"/>
<rect x="169.75" y="495.60" width="1.7" height="4.60" fill="#0000ff"/>
<rect x="171.45" y="495.60" width="1.7" height="4.60" fill="#ff0000"/>
<rect x="175.52" y="499.00" width="1.7" height="1.20" fill="#0000ff"/>
<rect x="177.22" y="499.00" width="1.7" height="1.20" fill="#ff0000"/>
<rect x="61.7" y="409" width="121.30" height="91.20" fill="none" stroke="#808080" stroke-width="0.9"/>
<line x1="61.7" y1="500.20" x2="63.300000000000004" y2="500.20" stroke="#808080" stroke-width="0.8"/>
<line x1="183" y1="500.20" x2="181.4" y2="500.20" stroke="#808080" stroke-width="0.8"/>
<text x="59.20" y="502.70" font-size="7" text-anchor="end" fill="#262626" >0</text>
<line x1="61.7" y1="477.40" x2="63.300000000000004" y2="477.40" stroke="#808080" stroke-width="0.8"/>
<line x1="183" y1="477.40" x2="181.4" y2="477.40" stroke="#808080" stroke-width="0.8"/>
<text x="59.20" y="479.90" font-size="7" text-anchor="end" fill="#262626" >2</text>
<line x1="61.7" y1="454.60" x2="63.300000000000004" y2="454.60" stroke="#808080" stroke-width="0.8"/>
<line x1="183" y1="454.60" x2="181.4" y2="454.60" stroke="#808080" stroke-width="0.8"/>
<text x="59.20" y="457.10" font-size="7" text-anchor="end" fill="#262626" >4</text>
<line x1="61.7" y1="431.80" x2="63.300000000000004" y2="431.80" stroke="#808080" stroke-width="0.8"/>
<line x1="183" y1="431.80" x2="181.4" y2="431.80" stroke="#808080" stroke-width="0.8"/>
<text x="59.20" y="434.30" font-size="7" text-anchor="end" fill="#262626" >6</text>
<line x1="61.7" y1="409.00" x2="63.300000000000004" y2="409.00" stroke="#808080" stroke-width="0.8"/>
<line x1="183" y1="409.00" x2="181.4" y2="409.00" stroke="#808080" stroke-width="0.8"/>
<text x="59.20" y="411.50" font-size="7" text-anchor="end" fill="#262626" >8</text>
<text transform="translate(52.5,454.60) rotate(-90)" font-size="7.3" text-anchor="middle" fill="#262626">Absolute error (A)</text>
<text x="62.0" y="407.8" font-size="6.8" fill="#262626">×10<tspan dy="-3.4" font-size="5">-3</tspan></text>
<text x="66.8" y="417.6" font-size="6.85" fill="#000">sum of IAE<tspan dx="0.5" dy="3.2" font-size="5.8">IEF</tspan></text>
<text x="115.2" y="417.6" font-size="6.7" fill="#000">=</text>
<text x="121.6" y="417.6" font-size="6.7" fill="#000">0.021903318</text>
<text x="66.8" y="428.6" font-size="6.85" fill="#000">sum of IAE<tspan dx="0.5" dy="3.2" font-size="5.8">LWF</tspan></text>
<text x="115.2" y="428.6" font-size="6.7" fill="#000">=</text>
<text x="120.6" y="428.6" font-size="6.7" fill="#000">0.021789862</text>
<rect x="67.0" y="436.2" width="35.60" height="16.80" fill="#fff" stroke="#a0a0a0" stroke-width="0.8"/>
<rect x="69.50" y="438.50" width="17.1" height="5.2" fill="#0000ff"/>
<rect x="69.50" y="445.60" width="17.1" height="5.5" fill="#ff0000"/>
<text x="87.80" y="443.50" font-size="6.2" text-anchor="start" fill="#000" >IEF</text>
<text x="87.80" y="450.80" font-size="6.2" text-anchor="start" fill="#000" >LWF</text>
<polyline points="282.40,388.50 363.60,388.90 369.60,389.20 374.80,389.30 382.30,389.70 388.10,390.10 393.30,390.60 397.70,391.30 401.90,392.50 406.40,394.00 410.10,395.40 415.00,398.40 418.60,401.40 421.80,405.00 424.20,409.20 427.20,415.20 429.30,419.80 432.90,428.60 434.80,432.80 436.40,438.80 438.00,443.40 439.20,447.60 440.80,456.10 455.10,527.30" fill="none" stroke="#0000ff" stroke-width="1.3"/>
<polyline points="282.40,388.50 363.60,388.90 369.60,389.20 374.80,389.30 382.30,389.70 388.10,390.10 393.30,390.60 397.70,391.30 401.90,392.50 406.40,394.00 410.10,395.40 415.00,398.40 418.60,401.40 421.80,405.00 424.20,409.20 427.20,415.20 429.30,419.80 432.90,428.60 434.80,432.80 436.40,438.80 438.00,443.40 439.20,447.60 440.80,456.10 455.10,527.30" fill="none" stroke="#ff0000" stroke-width="1.1" stroke-dasharray="1.1 1.1"/>
<circle cx="282.40" cy="388.50" r="2.4" fill="none" stroke="#1e9a1e" stroke-width="0.9"/>
<circle cx="363.60" cy="388.90" r="2.4" fill="none" stroke="#1e9a1e" stroke-width="0.9"/>
<circle cx="369.60" cy="389.20" r="2.4" fill="none" stroke="#1e9a1e" stroke-width="0.9"/>
<circle cx="374.80" cy="389.30" r="2.4" fill="none" stroke="#1e9a1e" stroke-width="0.9"/>
<circle cx="382.30" cy="389.70" r="2.4" fill="none" stroke="#1e9a1e" stroke-width="0.9"/>
<circle cx="388.10" cy="390.10" r="2.4" fill="none" stroke="#1e9a1e" stroke-width="0.9"/>
<circle cx="393.30" cy="390.60" r="2.4" fill="none" stroke="#1e9a1e" stroke-width="0.9"/>
<circle cx="397.70" cy="391.30" r="2.4" fill="none" stroke="#1e9a1e" stroke-width="0.9"/>
<circle cx="401.90" cy="392.50" r="2.4" fill="none" stroke="#1e9a1e" stroke-width="0.9"/>
<circle cx="406.40" cy="394.00" r="2.4" fill="none" stroke="#1e9a1e" stroke-width="0.9"/>
<circle cx="410.10" cy="395.40" r="2.4" fill="none" stroke="#1e9a1e" stroke-width="0.9"/>
<circle cx="415.00" cy="398.40" r="2.4" fill="none" stroke="#1e9a1e" stroke-width="0.9"/>
<circle cx="418.60" cy="401.40" r="2.4" fill="none" stroke="#1e9a1e" stroke-width="0.9"/>
<circle cx="421.80" cy="405.00" r="2.4" fill="none" stroke="#1e9a1e" stroke-width="0.9"/>
<circle cx="424.20" cy="409.20" r="2.4" fill="none" stroke="#1e9a1e" stroke-width="0.9"/>
<circle cx="427.20" cy="415.20" r="2.4" fill="none" stroke="#1e9a1e" stroke-width="0.9"/>
<circle cx="429.30" cy="419.80" r="2.4" fill="none" stroke="#1e9a1e" stroke-width="0.9"/>
<circle cx="432.90" cy="428.60" r="2.4" fill="none" stroke="#1e9a1e" stroke-width="0.9"/>
<circle cx="434.80" cy="432.80" r="2.4" fill="none" stroke="#1e9a1e" stroke-width="0.9"/>
<circle cx="436.40" cy="438.80" r="2.4" fill="none" stroke="#1e9a1e" stroke-width="0.9"/>
<circle cx="438.00" cy="443.40" r="2.4" fill="none" stroke="#1e9a1e" stroke-width="0.9"/>
<circle cx="439.20" cy="447.60" r="2.4" fill="none" stroke="#1e9a1e" stroke-width="0.9"/>
<circle cx="440.80" cy="456.10" r="2.4" fill="none" stroke="#1e9a1e" stroke-width="0.9"/>
<circle cx="455.10" cy="527.30" r="2.4" fill="none" stroke="#1e9a1e" stroke-width="0.9"/>
<rect x="273.7" y="379.0" width="188.30" height="148.30" fill="none" stroke="#808080" stroke-width="0.9"/>
<line x1="282.67" y1="527.3" x2="282.67" y2="525.5" stroke="#808080" stroke-width="0.8"/>
<line x1="282.67" y1="379.0" x2="282.67" y2="380.8" stroke="#808080" stroke-width="0.8"/>
<text x="282.67" y="536.90" font-size="7.5" text-anchor="middle" fill="#262626" >0</text>
<line x1="327.50" y1="527.3" x2="327.50" y2="525.5" stroke="#808080" stroke-width="0.8"/>
<line x1="327.50" y1="379.0" x2="327.50" y2="380.8" stroke="#808080" stroke-width="0.8"/>
<text x="327.50" y="536.90" font-size="7.5" text-anchor="middle" fill="#262626" >5</text>
<line x1="372.33" y1="527.3" x2="372.33" y2="525.5" stroke="#808080" stroke-width="0.8"/>
<line x1="372.33" y1="379.0" x2="372.33" y2="380.8" stroke="#808080" stroke-width="0.8"/>
<text x="372.33" y="536.90" font-size="7.5" text-anchor="middle" fill="#262626" >10</text>
<line x1="417.17" y1="527.3" x2="417.17" y2="525.5" stroke="#808080" stroke-width="0.8"/>
<line x1="417.17" y1="379.0" x2="417.17" y2="380.8" stroke="#808080" stroke-width="0.8"/>
<text x="417.17" y="536.90" font-size="7.5" text-anchor="middle" fill="#262626" >15</text>
<line x1="462.00" y1="527.3" x2="462.00" y2="525.5" stroke="#808080" stroke-width="0.8"/>
<line x1="462.00" y1="379.0" x2="462.00" y2="380.8" stroke="#808080" stroke-width="0.8"/>
<text x="462.00" y="536.90" font-size="7.5" text-anchor="middle" fill="#262626" >20</text>
<line x1="273.7" y1="527.30" x2="275.5" y2="527.30" stroke="#808080" stroke-width="0.8"/>
<line x1="462.0" y1="527.30" x2="460.2" y2="527.30" stroke="#808080" stroke-width="0.8"/>
<text x="270.70" y="530.00" font-size="7.5" text-anchor="end" fill="#262626" >0</text>
<line x1="273.7" y1="508.76" x2="275.5" y2="508.76" stroke="#808080" stroke-width="0.8"/>
<line x1="462.0" y1="508.76" x2="460.2" y2="508.76" stroke="#808080" stroke-width="0.8"/>
<text x="270.70" y="511.46" font-size="7.5" text-anchor="end" fill="#262626" >1</text>
<line x1="273.7" y1="490.22" x2="275.5" y2="490.22" stroke="#808080" stroke-width="0.8"/>
<line x1="462.0" y1="490.22" x2="460.2" y2="490.22" stroke="#808080" stroke-width="0.8"/>
<text x="270.70" y="492.92" font-size="7.5" text-anchor="end" fill="#262626" >2</text>
<line x1="273.7" y1="471.69" x2="275.5" y2="471.69" stroke="#808080" stroke-width="0.8"/>
<line x1="462.0" y1="471.69" x2="460.2" y2="471.69" stroke="#808080" stroke-width="0.8"/>
<text x="270.70" y="474.39" font-size="7.5" text-anchor="end" fill="#262626" >3</text>
<line x1="273.7" y1="453.15" x2="275.5" y2="453.15" stroke="#808080" stroke-width="0.8"/>
<line x1="462.0" y1="453.15" x2="460.2" y2="453.15" stroke="#808080" stroke-width="0.8"/>
<text x="270.70" y="455.85" font-size="7.5" text-anchor="end" fill="#262626" >4</text>
<line x1="273.7" y1="434.61" x2="275.5" y2="434.61" stroke="#808080" stroke-width="0.8"/>
<line x1="462.0" y1="434.61" x2="460.2" y2="434.61" stroke="#808080" stroke-width="0.8"/>
<text x="270.70" y="437.31" font-size="7.5" text-anchor="end" fill="#262626" >5</text>
<line x1="273.7" y1="416.07" x2="275.5" y2="416.07" stroke="#808080" stroke-width="0.8"/>
<line x1="462.0" y1="416.07" x2="460.2" y2="416.07" stroke="#808080" stroke-width="0.8"/>
<text x="270.70" y="418.77" font-size="7.5" text-anchor="end" fill="#262626" >6</text>
<line x1="273.7" y1="397.54" x2="275.5" y2="397.54" stroke="#808080" stroke-width="0.8"/>
<line x1="462.0" y1="397.54" x2="460.2" y2="397.54" stroke="#808080" stroke-width="0.8"/>
<text x="270.70" y="400.24" font-size="7.5" text-anchor="end" fill="#262626" >7</text>
<line x1="273.7" y1="379.00" x2="275.5" y2="379.00" stroke="#808080" stroke-width="0.8"/>
<line x1="462.0" y1="379.00" x2="460.2" y2="379.00" stroke="#808080" stroke-width="0.8"/>
<text x="270.70" y="381.70" font-size="7.5" text-anchor="end" fill="#262626" >8</text>
<text x="367.85" y="376.10" font-size="7.8" text-anchor="middle" fill="#000" >SDM of STP6-120/36 module</text>
<text x="367.85" y="546.20" font-size="7.8" text-anchor="middle" fill="#262626" >Voltage (V)</text>
<text transform="translate(262.9,453.15) rotate(-90)" font-size="7.8" text-anchor="middle" fill="#262626">Current (A)</text>
<text x="245.70" y="378.80" font-size="11" text-anchor="start" fill="#000" >(f)</text>
<rect x="308.6" y="513.6" width="117.20" height="9.10" fill="#fff" stroke="#a0a0a0" stroke-width="0.8"/>
<line x1="310.20" y1="518.15" x2="327.50" y2="518.15" stroke="#0000ff" stroke-width="1.3"/>
<text x="329.30" y="520.45" font-size="6.4" text-anchor="start" fill="#262626" >IEF</text>
<line x1="342.40" y1="518.15" x2="360.00" y2="518.15" stroke="#ff0000" stroke-width="1.25" stroke-dasharray="1 1"/>
<text x="360.70" y="520.45" font-size="6.4" text-anchor="start" fill="#262626" >LWF</text>
<circle cx="386.80" cy="518.15" r="2.1" fill="none" stroke="#1e9a1e" stroke-width="0.8"/>
<text x="397.20" y="520.45" font-size="6.4" text-anchor="start" fill="#262626" >Measured</text>
<rect x="301.6" y="416.6" width="122.00" height="90.40" fill="#fff" stroke="none"/>
<line x1="301.6" y1="491.93" x2="423.6" y2="491.93" stroke="#e8e8e8" stroke-width="0.6"/>
<line x1="301.6" y1="476.87" x2="423.6" y2="476.87" stroke="#e8e8e8" stroke-width="0.6"/>
<line x1="301.6" y1="461.80" x2="423.6" y2="461.80" stroke="#e8e8e8" stroke-width="0.6"/>
<line x1="301.6" y1="446.73" x2="423.6" y2="446.73" stroke="#e8e8e8" stroke-width="0.6"/>
<line x1="301.6" y1="431.67" x2="423.6" y2="431.67" stroke="#e8e8e8" stroke-width="0.6"/>
<rect x="304.93" y="493.00" width="1.55" height="14.00" fill="#0000ff"/>
<rect x="306.48" y="497.00" width="1.55" height="10.00" fill="#ff0000"/>
<rect x="309.81" y="503.40" width="1.55" height="3.60" fill="#0000ff"/>
<rect x="311.36" y="506.00" width="1.55" height="1.00" fill="#ff0000"/>
<rect x="314.69" y="467.00" width="1.55" height="40.00" fill="#0000ff"/>
<rect x="316.24" y="469.60" width="1.55" height="37.40" fill="#ff0000"/>
<rect x="319.57" y="507.00" width="1.55" height="0.00" fill="#0000ff"/>
<rect x="321.12" y="502.40" width="1.55" height="4.60" fill="#ff0000"/>
<rect x="324.45" y="491.60" width="1.55" height="15.40" fill="#0000ff"/>
<rect x="326.00" y="494.40" width="1.55" height="12.60" fill="#ff0000"/>
<rect x="329.33" y="483.00" width="1.55" height="24.00" fill="#0000ff"/>
<rect x="330.88" y="485.00" width="1.55" height="22.00" fill="#ff0000"/>
<rect x="334.21" y="497.00" width="1.55" height="10.00" fill="#0000ff"/>
<rect x="335.76" y="496.00" width="1.55" height="11.00" fill="#ff0000"/>
<rect x="339.09" y="494.00" width="1.55" height="13.00" fill="#0000ff"/>
<rect x="340.64" y="494.00" width="1.55" height="13.00" fill="#ff0000"/>
<rect x="343.97" y="498.00" width="1.55" height="9.00" fill="#0000ff"/>
<rect x="345.52" y="498.40" width="1.55" height="8.60" fill="#ff0000"/>
<rect x="348.85" y="488.00" width="1.55" height="19.00" fill="#0000ff"/>
<rect x="350.40" y="490.00" width="1.55" height="17.00" fill="#ff0000"/>
<rect x="353.73" y="488.00" width="1.55" height="19.00" fill="#0000ff"/>
<rect x="355.28" y="492.40" width="1.55" height="14.60" fill="#ff0000"/>
<rect x="358.61" y="488.40" width="1.55" height="18.60" fill="#0000ff"/>
<rect x="360.16" y="493.60" width="1.55" height="13.40" fill="#ff0000"/>
<rect x="363.49" y="482.40" width="1.55" height="24.60" fill="#0000ff"/>
<rect x="365.04" y="489.00" width="1.55" height="18.00" fill="#ff0000"/>
<rect x="368.37" y="487.00" width="1.55" height="20.00" fill="#0000ff"/>
<rect x="369.92" y="493.60" width="1.55" height="13.40" fill="#ff0000"/>
<rect x="373.25" y="487.60" width="1.55" height="19.40" fill="#0000ff"/>
<rect x="374.80" y="494.00" width="1.55" height="13.00" fill="#ff0000"/>
<rect x="378.13" y="440.00" width="1.55" height="67.00" fill="#0000ff"/>
<rect x="379.68" y="447.40" width="1.55" height="59.60" fill="#ff0000"/>
<rect x="383.01" y="458.00" width="1.55" height="49.00" fill="#0000ff"/>
<rect x="384.56" y="465.00" width="1.55" height="42.00" fill="#ff0000"/>
<rect x="387.89" y="500.00" width="1.55" height="7.00" fill="#0000ff"/>
<rect x="389.44" y="502.00" width="1.55" height="5.00" fill="#ff0000"/>
<rect x="392.77" y="484.00" width="1.55" height="23.00" fill="#0000ff"/>
<rect x="394.32" y="491.00" width="1.55" height="16.00" fill="#ff0000"/>
<rect x="397.65" y="498.00" width="1.55" height="9.00" fill="#0000ff"/>
<rect x="399.20" y="498.00" width="1.55" height="9.00" fill="#ff0000"/>
<rect x="402.53" y="479.00" width="1.55" height="28.00" fill="#0000ff"/>
<rect x="404.08" y="482.40" width="1.55" height="24.60" fill="#ff0000"/>
<rect x="407.41" y="473.00" width="1.55" height="34.00" fill="#0000ff"/>
<rect x="408.96" y="478.00" width="1.55" height="29.00" fill="#ff0000"/>
<rect x="412.29" y="502.40" width="1.55" height="4.60" fill="#0000ff"/>
<rect x="413.84" y="504.40" width="1.55" height="2.60" fill="#ff0000"/>
<rect x="417.17" y="504.00" width="1.55" height="3.00" fill="#0000ff"/>
<rect x="418.72" y="501.00" width="1.55" height="6.00" fill="#ff0000"/>
<rect x="301.6" y="416.6" width="122.00" height="90.40" fill="none" stroke="#808080" stroke-width="0.9"/>
<line x1="301.6" y1="507.00" x2="303.20000000000005" y2="507.00" stroke="#808080" stroke-width="0.8"/>
<line x1="423.6" y1="507.00" x2="422.0" y2="507.00" stroke="#808080" stroke-width="0.8"/>
<text x="299.10" y="509.50" font-size="7" text-anchor="end" fill="#262626" >0</text>
<line x1="301.6" y1="491.93" x2="303.20000000000005" y2="491.93" stroke="#808080" stroke-width="0.8"/>
<line x1="423.6" y1="491.93" x2="422.0" y2="491.93" stroke="#808080" stroke-width="0.8"/>
<text x="299.10" y="494.43" font-size="7" text-anchor="end" fill="#262626" >0.01</text>
<line x1="301.6" y1="476.87" x2="303.20000000000005" y2="476.87" stroke="#808080" stroke-width="0.8"/>
<line x1="423.6" y1="476.87" x2="422.0" y2="476.87" stroke="#808080" stroke-width="0.8"/>
<text x="299.10" y="479.37" font-size="7" text-anchor="end" fill="#262626" >0.02</text>
<line x1="301.6" y1="461.80" x2="303.20000000000005" y2="461.80" stroke="#808080" stroke-width="0.8"/>
<line x1="423.6" y1="461.80" x2="422.0" y2="461.80" stroke="#808080" stroke-width="0.8"/>
<text x="299.10" y="464.30" font-size="7" text-anchor="end" fill="#262626" >0.03</text>
<line x1="301.6" y1="446.73" x2="303.20000000000005" y2="446.73" stroke="#808080" stroke-width="0.8"/>
<line x1="423.6" y1="446.73" x2="422.0" y2="446.73" stroke="#808080" stroke-width="0.8"/>
<text x="299.10" y="449.23" font-size="7" text-anchor="end" fill="#262626" >0.04</text>
<line x1="301.6" y1="431.67" x2="303.20000000000005" y2="431.67" stroke="#808080" stroke-width="0.8"/>
<line x1="423.6" y1="431.67" x2="422.0" y2="431.67" stroke="#808080" stroke-width="0.8"/>
<text x="299.10" y="434.17" font-size="7" text-anchor="end" fill="#262626" >0.05</text>
<line x1="301.6" y1="416.60" x2="303.20000000000005" y2="416.60" stroke="#808080" stroke-width="0.8"/>
<line x1="423.6" y1="416.60" x2="422.0" y2="416.60" stroke="#808080" stroke-width="0.8"/>
<text x="299.10" y="419.10" font-size="7" text-anchor="end" fill="#262626" >0.06</text>
<text transform="translate(282.6,461.80) rotate(-90)" font-size="7.3" text-anchor="middle" fill="#262626">Absolute error (A)</text>
<text x="310.6" y="424.6" font-size="6.85" fill="#000">sum of IAE<tspan dx="0.5" dy="3.2" font-size="5.8">IEF</tspan></text>
<text x="358.4" y="424.6" font-size="6.7" fill="#000">=</text>
<text x="364.6" y="424.6" font-size="6.7" fill="#000">0.31712782</text>
<text x="310.6" y="435.6" font-size="6.85" fill="#000">sum of IAE<tspan dx="0.5" dy="3.2" font-size="5.8">LWF</tspan></text>
<text x="358.4" y="435.6" font-size="6.7" fill="#000">=</text>
<text x="363.6" y="435.6" font-size="6.7" fill="#000">0.26823231</text>
<rect x="311.0" y="443.2" width="35.20" height="16.60" fill="#fff" stroke="#a0a0a0" stroke-width="0.8"/>
<rect x="313.50" y="445.50" width="17.1" height="5.2" fill="#0000ff"/>
<rect x="313.50" y="452.60" width="17.1" height="5.5" fill="#ff0000"/>
<text x="331.80" y="450.50" font-size="6.2" text-anchor="start" fill="#000" >IEF</text>
<text x="331.80" y="457.80" font-size="6.2" text-anchor="start" fill="#000" >LWF</text>
</svg></body></html>
